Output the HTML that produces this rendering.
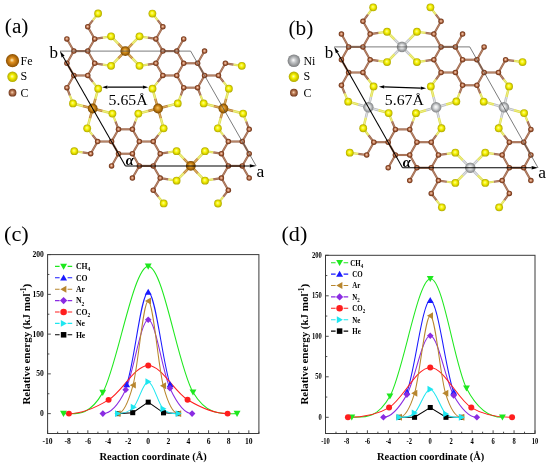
<!DOCTYPE html><html><head><meta charset="utf-8"><style>html,body{margin:0;padding:0;background:#fff;}svg{display:block}</style></head><body><svg width="550" height="466" viewBox="0 0 550 466">
<defs>
<radialGradient id="gFe" cx="0.5" cy="0.5" r="0.5" fx="0.45" fy="0.42"><stop offset="0" stop-color="#f5c060"/><stop offset="0.45" stop-color="#d08a18"/><stop offset="1" stop-color="#7a4600"/></radialGradient>
<radialGradient id="gNi" cx="0.5" cy="0.5" r="0.5" fx="0.47" fy="0.45"><stop offset="0" stop-color="#ffffff"/><stop offset="0.4" stop-color="#d8dadc"/><stop offset="0.75" stop-color="#a0a2a4"/><stop offset="0.92" stop-color="#8c8e90"/><stop offset="1" stop-color="#a4a6a8"/></radialGradient>
<radialGradient id="gS" cx="0.5" cy="0.5" r="0.5" fx="0.45" fy="0.42"><stop offset="0" stop-color="#ffff90"/><stop offset="0.5" stop-color="#f4f000"/><stop offset="1" stop-color="#b0a800"/></radialGradient>
<radialGradient id="gC" cx="0.5" cy="0.5" r="0.5" fx="0.48" fy="0.45"><stop offset="0" stop-color="#fad8bc"/><stop offset="0.35" stop-color="#d09070"/><stop offset="0.7" stop-color="#8e4a28"/><stop offset="1" stop-color="#6a3014"/></radialGradient>
<radialGradient id="gFeL" cx="0.5" cy="0.5" r="0.5" fx="0.45" fy="0.45"><stop offset="0" stop-color="#fff0c0"/><stop offset="0.35" stop-color="#e09020"/><stop offset="1" stop-color="#8a4e00"/></radialGradient>
<radialGradient id="gNiL" cx="0.5" cy="0.5" r="0.5" fx="0.45" fy="0.45"><stop offset="0" stop-color="#ffffff"/><stop offset="0.35" stop-color="#c8cacc"/><stop offset="1" stop-color="#7c7e80"/></radialGradient>
<radialGradient id="gSL" cx="0.5" cy="0.5" r="0.5" fx="0.45" fy="0.45"><stop offset="0" stop-color="#ffffc0"/><stop offset="0.4" stop-color="#f4f000"/><stop offset="1" stop-color="#b0a800"/></radialGradient>
<radialGradient id="gCL" cx="0.5" cy="0.5" r="0.5" fx="0.45" fy="0.45"><stop offset="0" stop-color="#f8d8b8"/><stop offset="0.4" stop-color="#c0805a"/><stop offset="1" stop-color="#6e3418"/></radialGradient>
</defs>
<rect width="550" height="466" fill="#fff"/>
<g>
<line x1="176.75" y1="51.10" x2="183.70" y2="38.91" stroke="#9a6448" stroke-width="2.10"/>
<line x1="176.75" y1="51.10" x2="183.70" y2="63.29" stroke="#9a6448" stroke-width="2.10"/>
<line x1="176.75" y1="51.10" x2="162.85" y2="51.10" stroke="#9a6448" stroke-width="2.10"/>
<line x1="204.55" y1="51.10" x2="197.60" y2="63.29" stroke="#9a6448" stroke-width="2.10"/>
<line x1="183.70" y1="63.29" x2="197.60" y2="63.29" stroke="#9a6448" stroke-width="2.10"/>
<line x1="183.70" y1="63.29" x2="176.75" y2="75.48" stroke="#9a6448" stroke-width="2.10"/>
<line x1="197.60" y1="63.29" x2="204.55" y2="75.48" stroke="#9a6448" stroke-width="2.10"/>
<line x1="162.85" y1="51.10" x2="155.90" y2="38.91" stroke="#9a6448" stroke-width="2.10"/>
<line x1="162.85" y1="51.10" x2="155.90" y2="63.29" stroke="#9a6448" stroke-width="2.10"/>
<line x1="176.75" y1="75.48" x2="162.85" y2="75.48" stroke="#9a6448" stroke-width="2.10"/>
<line x1="176.75" y1="75.48" x2="183.70" y2="87.66" stroke="#9a6448" stroke-width="2.10"/>
<line x1="204.55" y1="75.48" x2="197.60" y2="87.66" stroke="#9a6448" stroke-width="2.10"/>
<line x1="204.55" y1="75.48" x2="218.45" y2="75.48" stroke="#9a6448" stroke-width="2.10"/>
<line x1="162.85" y1="26.72" x2="155.90" y2="38.91" stroke="#9a6448" stroke-width="2.10"/>
<line x1="155.90" y1="63.29" x2="162.85" y2="75.48" stroke="#9a6448" stroke-width="2.10"/>
<line x1="183.70" y1="87.66" x2="197.60" y2="87.66" stroke="#9a6448" stroke-width="2.10"/>
<line x1="218.45" y1="75.48" x2="225.40" y2="63.29" stroke="#9a6448" stroke-width="2.10"/>
<line x1="139.35" y1="165.90" x2="132.40" y2="178.09" stroke="#9a6448" stroke-width="2.10"/>
<line x1="139.35" y1="165.90" x2="132.40" y2="153.71" stroke="#9a6448" stroke-width="2.10"/>
<line x1="139.35" y1="165.90" x2="153.25" y2="165.90" stroke="#9a6448" stroke-width="2.10"/>
<line x1="111.55" y1="165.90" x2="118.50" y2="153.71" stroke="#9a6448" stroke-width="2.10"/>
<line x1="132.40" y1="153.71" x2="118.50" y2="153.71" stroke="#9a6448" stroke-width="2.10"/>
<line x1="132.40" y1="153.71" x2="139.35" y2="141.52" stroke="#9a6448" stroke-width="2.10"/>
<line x1="118.50" y1="153.71" x2="111.55" y2="141.52" stroke="#9a6448" stroke-width="2.10"/>
<line x1="153.25" y1="165.90" x2="160.20" y2="178.09" stroke="#9a6448" stroke-width="2.10"/>
<line x1="153.25" y1="165.90" x2="160.20" y2="153.71" stroke="#9a6448" stroke-width="2.10"/>
<line x1="139.35" y1="141.52" x2="153.25" y2="141.52" stroke="#9a6448" stroke-width="2.10"/>
<line x1="139.35" y1="141.52" x2="132.40" y2="129.34" stroke="#9a6448" stroke-width="2.10"/>
<line x1="111.55" y1="141.52" x2="118.50" y2="129.34" stroke="#9a6448" stroke-width="2.10"/>
<line x1="111.55" y1="141.52" x2="97.65" y2="141.52" stroke="#9a6448" stroke-width="2.10"/>
<line x1="153.25" y1="190.28" x2="160.20" y2="178.09" stroke="#9a6448" stroke-width="2.10"/>
<line x1="160.20" y1="153.71" x2="153.25" y2="141.52" stroke="#9a6448" stroke-width="2.10"/>
<line x1="132.40" y1="129.34" x2="118.50" y2="129.34" stroke="#9a6448" stroke-width="2.10"/>
<line x1="97.65" y1="141.52" x2="90.70" y2="153.71" stroke="#9a6448" stroke-width="2.10"/>
<line x1="73.85" y1="51.10" x2="66.90" y2="38.91" stroke="#9a6448" stroke-width="2.10"/>
<line x1="73.85" y1="51.10" x2="66.90" y2="63.29" stroke="#9a6448" stroke-width="2.10"/>
<line x1="73.85" y1="51.10" x2="87.75" y2="51.10" stroke="#9a6448" stroke-width="2.10"/>
<line x1="66.90" y1="63.29" x2="73.85" y2="75.48" stroke="#9a6448" stroke-width="2.10"/>
<line x1="87.75" y1="51.10" x2="94.70" y2="38.91" stroke="#9a6448" stroke-width="2.10"/>
<line x1="87.75" y1="51.10" x2="94.70" y2="63.29" stroke="#9a6448" stroke-width="2.10"/>
<line x1="73.85" y1="75.48" x2="87.75" y2="75.48" stroke="#9a6448" stroke-width="2.10"/>
<line x1="73.85" y1="75.48" x2="66.90" y2="87.66" stroke="#9a6448" stroke-width="2.10"/>
<line x1="87.75" y1="26.72" x2="94.70" y2="38.91" stroke="#9a6448" stroke-width="2.10"/>
<line x1="94.70" y1="63.29" x2="87.75" y2="75.48" stroke="#9a6448" stroke-width="2.10"/>
<line x1="242.25" y1="165.90" x2="249.20" y2="178.09" stroke="#9a6448" stroke-width="2.10"/>
<line x1="242.25" y1="165.90" x2="249.20" y2="153.71" stroke="#9a6448" stroke-width="2.10"/>
<line x1="242.25" y1="165.90" x2="228.35" y2="165.90" stroke="#9a6448" stroke-width="2.10"/>
<line x1="249.20" y1="153.71" x2="242.25" y2="141.52" stroke="#9a6448" stroke-width="2.10"/>
<line x1="228.35" y1="165.90" x2="221.40" y2="178.09" stroke="#9a6448" stroke-width="2.10"/>
<line x1="228.35" y1="165.90" x2="221.40" y2="153.71" stroke="#9a6448" stroke-width="2.10"/>
<line x1="242.25" y1="141.52" x2="228.35" y2="141.52" stroke="#9a6448" stroke-width="2.10"/>
<line x1="242.25" y1="141.52" x2="249.20" y2="129.34" stroke="#9a6448" stroke-width="2.10"/>
<line x1="228.35" y1="190.28" x2="221.40" y2="178.09" stroke="#9a6448" stroke-width="2.10"/>
<line x1="221.40" y1="153.71" x2="228.35" y2="141.52" stroke="#9a6448" stroke-width="2.10"/>
<line x1="162.85" y1="26.72" x2="157.62" y2="20.13" stroke="#9a6448" stroke-width="2.20"/>
<line x1="157.62" y1="20.13" x2="152.39" y2="13.53" stroke="#dcdc48" stroke-width="2.20"/>
<line x1="155.90" y1="38.91" x2="147.70" y2="37.63" stroke="#9a6448" stroke-width="2.20"/>
<line x1="147.70" y1="37.63" x2="139.50" y2="36.35" stroke="#dcdc48" stroke-width="2.20"/>
<line x1="125.30" y1="51.10" x2="132.40" y2="43.72" stroke="#b88030" stroke-width="2.50"/>
<line x1="132.40" y1="43.72" x2="139.50" y2="36.35" stroke="#dcdc48" stroke-width="2.50"/>
<line x1="155.90" y1="63.29" x2="147.70" y2="64.57" stroke="#9a6448" stroke-width="2.20"/>
<line x1="147.70" y1="64.57" x2="139.50" y2="65.85" stroke="#dcdc48" stroke-width="2.20"/>
<line x1="125.30" y1="51.10" x2="132.40" y2="58.48" stroke="#b88030" stroke-width="2.50"/>
<line x1="132.40" y1="58.48" x2="139.50" y2="65.85" stroke="#dcdc48" stroke-width="2.50"/>
<line x1="162.85" y1="75.48" x2="157.67" y2="82.08" stroke="#9a6448" stroke-width="2.20"/>
<line x1="157.67" y1="82.08" x2="152.50" y2="88.68" stroke="#dcdc48" stroke-width="2.20"/>
<line x1="158.05" y1="108.50" x2="155.27" y2="98.59" stroke="#b88030" stroke-width="2.50"/>
<line x1="155.27" y1="98.59" x2="152.50" y2="88.68" stroke="#dcdc48" stroke-width="2.50"/>
<line x1="183.70" y1="87.66" x2="180.73" y2="95.53" stroke="#9a6448" stroke-width="2.20"/>
<line x1="180.73" y1="95.53" x2="177.76" y2="103.39" stroke="#dcdc48" stroke-width="2.20"/>
<line x1="158.05" y1="108.50" x2="167.90" y2="105.95" stroke="#b88030" stroke-width="2.50"/>
<line x1="167.90" y1="105.95" x2="177.76" y2="103.39" stroke="#dcdc48" stroke-width="2.50"/>
<line x1="197.60" y1="87.66" x2="200.64" y2="95.55" stroke="#9a6448" stroke-width="2.20"/>
<line x1="200.64" y1="95.55" x2="203.68" y2="103.43" stroke="#dcdc48" stroke-width="2.20"/>
<line x1="223.40" y1="108.50" x2="213.54" y2="105.96" stroke="#b88030" stroke-width="2.50"/>
<line x1="213.54" y1="105.96" x2="203.68" y2="103.43" stroke="#dcdc48" stroke-width="2.50"/>
<line x1="218.45" y1="75.48" x2="223.68" y2="82.07" stroke="#9a6448" stroke-width="2.20"/>
<line x1="223.68" y1="82.07" x2="228.91" y2="88.67" stroke="#dcdc48" stroke-width="2.20"/>
<line x1="223.40" y1="108.50" x2="226.16" y2="98.59" stroke="#b88030" stroke-width="2.50"/>
<line x1="226.16" y1="98.59" x2="228.91" y2="88.67" stroke="#dcdc48" stroke-width="2.50"/>
<line x1="225.40" y1="63.29" x2="233.60" y2="64.57" stroke="#9a6448" stroke-width="2.20"/>
<line x1="233.60" y1="64.57" x2="241.80" y2="65.85" stroke="#dcdc48" stroke-width="2.20"/>
<line x1="153.25" y1="190.28" x2="158.48" y2="196.87" stroke="#9a6448" stroke-width="2.20"/>
<line x1="158.48" y1="196.87" x2="163.71" y2="203.47" stroke="#dcdc48" stroke-width="2.20"/>
<line x1="160.20" y1="178.09" x2="168.40" y2="179.37" stroke="#9a6448" stroke-width="2.20"/>
<line x1="168.40" y1="179.37" x2="176.60" y2="180.65" stroke="#dcdc48" stroke-width="2.20"/>
<line x1="190.80" y1="165.90" x2="183.70" y2="173.28" stroke="#b88030" stroke-width="2.50"/>
<line x1="183.70" y1="173.28" x2="176.60" y2="180.65" stroke="#dcdc48" stroke-width="2.50"/>
<line x1="160.20" y1="153.71" x2="168.40" y2="152.43" stroke="#9a6448" stroke-width="2.20"/>
<line x1="168.40" y1="152.43" x2="176.60" y2="151.15" stroke="#dcdc48" stroke-width="2.20"/>
<line x1="190.80" y1="165.90" x2="183.70" y2="158.52" stroke="#b88030" stroke-width="2.50"/>
<line x1="183.70" y1="158.52" x2="176.60" y2="151.15" stroke="#dcdc48" stroke-width="2.50"/>
<line x1="153.25" y1="141.52" x2="158.43" y2="134.92" stroke="#9a6448" stroke-width="2.20"/>
<line x1="158.43" y1="134.92" x2="163.60" y2="128.32" stroke="#dcdc48" stroke-width="2.20"/>
<line x1="158.05" y1="108.50" x2="160.83" y2="118.41" stroke="#b88030" stroke-width="2.50"/>
<line x1="160.83" y1="118.41" x2="163.60" y2="128.32" stroke="#dcdc48" stroke-width="2.50"/>
<line x1="132.40" y1="129.34" x2="135.37" y2="121.47" stroke="#9a6448" stroke-width="2.20"/>
<line x1="135.37" y1="121.47" x2="138.34" y2="113.61" stroke="#dcdc48" stroke-width="2.20"/>
<line x1="158.05" y1="108.50" x2="148.20" y2="111.05" stroke="#b88030" stroke-width="2.50"/>
<line x1="148.20" y1="111.05" x2="138.34" y2="113.61" stroke="#dcdc48" stroke-width="2.50"/>
<line x1="118.50" y1="129.34" x2="115.46" y2="121.45" stroke="#9a6448" stroke-width="2.20"/>
<line x1="115.46" y1="121.45" x2="112.42" y2="113.57" stroke="#dcdc48" stroke-width="2.20"/>
<line x1="92.70" y1="108.50" x2="102.56" y2="111.04" stroke="#b88030" stroke-width="2.50"/>
<line x1="102.56" y1="111.04" x2="112.42" y2="113.57" stroke="#dcdc48" stroke-width="2.50"/>
<line x1="97.65" y1="141.52" x2="92.42" y2="134.93" stroke="#9a6448" stroke-width="2.20"/>
<line x1="92.42" y1="134.93" x2="87.19" y2="128.33" stroke="#dcdc48" stroke-width="2.20"/>
<line x1="92.70" y1="108.50" x2="89.94" y2="118.41" stroke="#b88030" stroke-width="2.50"/>
<line x1="89.94" y1="118.41" x2="87.19" y2="128.33" stroke="#dcdc48" stroke-width="2.50"/>
<line x1="90.70" y1="153.71" x2="82.50" y2="152.43" stroke="#9a6448" stroke-width="2.20"/>
<line x1="82.50" y1="152.43" x2="74.30" y2="151.15" stroke="#dcdc48" stroke-width="2.20"/>
<line x1="87.75" y1="26.72" x2="92.93" y2="20.12" stroke="#9a6448" stroke-width="2.20"/>
<line x1="92.93" y1="20.12" x2="98.10" y2="13.52" stroke="#dcdc48" stroke-width="2.20"/>
<line x1="94.70" y1="38.91" x2="102.90" y2="37.63" stroke="#9a6448" stroke-width="2.20"/>
<line x1="102.90" y1="37.63" x2="111.10" y2="36.35" stroke="#dcdc48" stroke-width="2.20"/>
<line x1="125.30" y1="51.10" x2="118.20" y2="43.72" stroke="#b88030" stroke-width="2.50"/>
<line x1="118.20" y1="43.72" x2="111.10" y2="36.35" stroke="#dcdc48" stroke-width="2.50"/>
<line x1="94.70" y1="63.29" x2="102.90" y2="64.57" stroke="#9a6448" stroke-width="2.20"/>
<line x1="102.90" y1="64.57" x2="111.10" y2="65.85" stroke="#dcdc48" stroke-width="2.20"/>
<line x1="125.30" y1="51.10" x2="118.20" y2="58.48" stroke="#b88030" stroke-width="2.50"/>
<line x1="118.20" y1="58.48" x2="111.10" y2="65.85" stroke="#dcdc48" stroke-width="2.50"/>
<line x1="87.75" y1="75.48" x2="92.98" y2="82.07" stroke="#9a6448" stroke-width="2.20"/>
<line x1="92.98" y1="82.07" x2="98.21" y2="88.67" stroke="#dcdc48" stroke-width="2.20"/>
<line x1="92.70" y1="108.50" x2="95.46" y2="98.59" stroke="#b88030" stroke-width="2.50"/>
<line x1="95.46" y1="98.59" x2="98.21" y2="88.67" stroke="#dcdc48" stroke-width="2.50"/>
<line x1="66.90" y1="87.66" x2="69.94" y2="95.55" stroke="#9a6448" stroke-width="2.20"/>
<line x1="69.94" y1="95.55" x2="72.98" y2="103.43" stroke="#dcdc48" stroke-width="2.20"/>
<line x1="92.70" y1="108.50" x2="82.84" y2="105.96" stroke="#b88030" stroke-width="2.50"/>
<line x1="82.84" y1="105.96" x2="72.98" y2="103.43" stroke="#dcdc48" stroke-width="2.50"/>
<line x1="228.35" y1="190.28" x2="223.17" y2="196.88" stroke="#9a6448" stroke-width="2.20"/>
<line x1="223.17" y1="196.88" x2="218.00" y2="203.48" stroke="#dcdc48" stroke-width="2.20"/>
<line x1="221.40" y1="178.09" x2="213.20" y2="179.37" stroke="#9a6448" stroke-width="2.20"/>
<line x1="213.20" y1="179.37" x2="205.00" y2="180.65" stroke="#dcdc48" stroke-width="2.20"/>
<line x1="190.80" y1="165.90" x2="197.90" y2="173.28" stroke="#b88030" stroke-width="2.50"/>
<line x1="197.90" y1="173.28" x2="205.00" y2="180.65" stroke="#dcdc48" stroke-width="2.50"/>
<line x1="221.40" y1="153.71" x2="213.20" y2="152.43" stroke="#9a6448" stroke-width="2.20"/>
<line x1="213.20" y1="152.43" x2="205.00" y2="151.15" stroke="#dcdc48" stroke-width="2.20"/>
<line x1="190.80" y1="165.90" x2="197.90" y2="158.52" stroke="#b88030" stroke-width="2.50"/>
<line x1="197.90" y1="158.52" x2="205.00" y2="151.15" stroke="#dcdc48" stroke-width="2.50"/>
<line x1="228.35" y1="141.52" x2="223.12" y2="134.93" stroke="#9a6448" stroke-width="2.20"/>
<line x1="223.12" y1="134.93" x2="217.89" y2="128.33" stroke="#dcdc48" stroke-width="2.20"/>
<line x1="223.40" y1="108.50" x2="220.64" y2="118.41" stroke="#b88030" stroke-width="2.50"/>
<line x1="220.64" y1="118.41" x2="217.89" y2="128.33" stroke="#dcdc48" stroke-width="2.50"/>
<line x1="249.20" y1="129.34" x2="246.16" y2="121.45" stroke="#9a6448" stroke-width="2.20"/>
<line x1="246.16" y1="121.45" x2="243.12" y2="113.57" stroke="#dcdc48" stroke-width="2.20"/>
<line x1="223.40" y1="108.50" x2="233.26" y2="111.04" stroke="#b88030" stroke-width="2.50"/>
<line x1="233.26" y1="111.04" x2="243.12" y2="113.57" stroke="#dcdc48" stroke-width="2.50"/>
</g>
<g>
<line x1="176.75" y1="51.10" x2="183.70" y2="38.91" stroke="#b8866a" stroke-width="0.95"/>
<line x1="176.75" y1="51.10" x2="183.70" y2="63.29" stroke="#b8866a" stroke-width="0.95"/>
<line x1="176.75" y1="51.10" x2="162.85" y2="51.10" stroke="#b8866a" stroke-width="0.95"/>
<line x1="204.55" y1="51.10" x2="197.60" y2="63.29" stroke="#b8866a" stroke-width="0.95"/>
<line x1="183.70" y1="63.29" x2="197.60" y2="63.29" stroke="#b8866a" stroke-width="0.95"/>
<line x1="183.70" y1="63.29" x2="176.75" y2="75.48" stroke="#b8866a" stroke-width="0.95"/>
<line x1="197.60" y1="63.29" x2="204.55" y2="75.48" stroke="#b8866a" stroke-width="0.95"/>
<line x1="162.85" y1="51.10" x2="155.90" y2="38.91" stroke="#b8866a" stroke-width="0.95"/>
<line x1="162.85" y1="51.10" x2="155.90" y2="63.29" stroke="#b8866a" stroke-width="0.95"/>
<line x1="176.75" y1="75.48" x2="162.85" y2="75.48" stroke="#b8866a" stroke-width="0.95"/>
<line x1="176.75" y1="75.48" x2="183.70" y2="87.66" stroke="#b8866a" stroke-width="0.95"/>
<line x1="204.55" y1="75.48" x2="197.60" y2="87.66" stroke="#b8866a" stroke-width="0.95"/>
<line x1="204.55" y1="75.48" x2="218.45" y2="75.48" stroke="#b8866a" stroke-width="0.95"/>
<line x1="162.85" y1="26.72" x2="155.90" y2="38.91" stroke="#b8866a" stroke-width="0.95"/>
<line x1="155.90" y1="63.29" x2="162.85" y2="75.48" stroke="#b8866a" stroke-width="0.95"/>
<line x1="183.70" y1="87.66" x2="197.60" y2="87.66" stroke="#b8866a" stroke-width="0.95"/>
<line x1="218.45" y1="75.48" x2="225.40" y2="63.29" stroke="#b8866a" stroke-width="0.95"/>
<line x1="139.35" y1="165.90" x2="132.40" y2="178.09" stroke="#b8866a" stroke-width="0.95"/>
<line x1="139.35" y1="165.90" x2="132.40" y2="153.71" stroke="#b8866a" stroke-width="0.95"/>
<line x1="139.35" y1="165.90" x2="153.25" y2="165.90" stroke="#b8866a" stroke-width="0.95"/>
<line x1="111.55" y1="165.90" x2="118.50" y2="153.71" stroke="#b8866a" stroke-width="0.95"/>
<line x1="132.40" y1="153.71" x2="118.50" y2="153.71" stroke="#b8866a" stroke-width="0.95"/>
<line x1="132.40" y1="153.71" x2="139.35" y2="141.52" stroke="#b8866a" stroke-width="0.95"/>
<line x1="118.50" y1="153.71" x2="111.55" y2="141.52" stroke="#b8866a" stroke-width="0.95"/>
<line x1="153.25" y1="165.90" x2="160.20" y2="178.09" stroke="#b8866a" stroke-width="0.95"/>
<line x1="153.25" y1="165.90" x2="160.20" y2="153.71" stroke="#b8866a" stroke-width="0.95"/>
<line x1="139.35" y1="141.52" x2="153.25" y2="141.52" stroke="#b8866a" stroke-width="0.95"/>
<line x1="139.35" y1="141.52" x2="132.40" y2="129.34" stroke="#b8866a" stroke-width="0.95"/>
<line x1="111.55" y1="141.52" x2="118.50" y2="129.34" stroke="#b8866a" stroke-width="0.95"/>
<line x1="111.55" y1="141.52" x2="97.65" y2="141.52" stroke="#b8866a" stroke-width="0.95"/>
<line x1="153.25" y1="190.28" x2="160.20" y2="178.09" stroke="#b8866a" stroke-width="0.95"/>
<line x1="160.20" y1="153.71" x2="153.25" y2="141.52" stroke="#b8866a" stroke-width="0.95"/>
<line x1="132.40" y1="129.34" x2="118.50" y2="129.34" stroke="#b8866a" stroke-width="0.95"/>
<line x1="97.65" y1="141.52" x2="90.70" y2="153.71" stroke="#b8866a" stroke-width="0.95"/>
<line x1="73.85" y1="51.10" x2="66.90" y2="38.91" stroke="#b8866a" stroke-width="0.95"/>
<line x1="73.85" y1="51.10" x2="66.90" y2="63.29" stroke="#b8866a" stroke-width="0.95"/>
<line x1="73.85" y1="51.10" x2="87.75" y2="51.10" stroke="#b8866a" stroke-width="0.95"/>
<line x1="66.90" y1="63.29" x2="73.85" y2="75.48" stroke="#b8866a" stroke-width="0.95"/>
<line x1="87.75" y1="51.10" x2="94.70" y2="38.91" stroke="#b8866a" stroke-width="0.95"/>
<line x1="87.75" y1="51.10" x2="94.70" y2="63.29" stroke="#b8866a" stroke-width="0.95"/>
<line x1="73.85" y1="75.48" x2="87.75" y2="75.48" stroke="#b8866a" stroke-width="0.95"/>
<line x1="73.85" y1="75.48" x2="66.90" y2="87.66" stroke="#b8866a" stroke-width="0.95"/>
<line x1="87.75" y1="26.72" x2="94.70" y2="38.91" stroke="#b8866a" stroke-width="0.95"/>
<line x1="94.70" y1="63.29" x2="87.75" y2="75.48" stroke="#b8866a" stroke-width="0.95"/>
<line x1="242.25" y1="165.90" x2="249.20" y2="178.09" stroke="#b8866a" stroke-width="0.95"/>
<line x1="242.25" y1="165.90" x2="249.20" y2="153.71" stroke="#b8866a" stroke-width="0.95"/>
<line x1="242.25" y1="165.90" x2="228.35" y2="165.90" stroke="#b8866a" stroke-width="0.95"/>
<line x1="249.20" y1="153.71" x2="242.25" y2="141.52" stroke="#b8866a" stroke-width="0.95"/>
<line x1="228.35" y1="165.90" x2="221.40" y2="178.09" stroke="#b8866a" stroke-width="0.95"/>
<line x1="228.35" y1="165.90" x2="221.40" y2="153.71" stroke="#b8866a" stroke-width="0.95"/>
<line x1="242.25" y1="141.52" x2="228.35" y2="141.52" stroke="#b8866a" stroke-width="0.95"/>
<line x1="242.25" y1="141.52" x2="249.20" y2="129.34" stroke="#b8866a" stroke-width="0.95"/>
<line x1="228.35" y1="190.28" x2="221.40" y2="178.09" stroke="#b8866a" stroke-width="0.95"/>
<line x1="221.40" y1="153.71" x2="228.35" y2="141.52" stroke="#b8866a" stroke-width="0.95"/>
<line x1="162.85" y1="26.72" x2="157.62" y2="20.13" stroke="#b8866a" stroke-width="0.99"/>
<line x1="157.62" y1="20.13" x2="152.39" y2="13.53" stroke="#eeee88" stroke-width="0.99"/>
<line x1="155.90" y1="38.91" x2="147.70" y2="37.63" stroke="#b8866a" stroke-width="0.99"/>
<line x1="147.70" y1="37.63" x2="139.50" y2="36.35" stroke="#eeee88" stroke-width="0.99"/>
<line x1="125.30" y1="51.10" x2="132.40" y2="43.72" stroke="#dcac60" stroke-width="1.12"/>
<line x1="132.40" y1="43.72" x2="139.50" y2="36.35" stroke="#eeee88" stroke-width="1.12"/>
<line x1="155.90" y1="63.29" x2="147.70" y2="64.57" stroke="#b8866a" stroke-width="0.99"/>
<line x1="147.70" y1="64.57" x2="139.50" y2="65.85" stroke="#eeee88" stroke-width="0.99"/>
<line x1="125.30" y1="51.10" x2="132.40" y2="58.48" stroke="#dcac60" stroke-width="1.12"/>
<line x1="132.40" y1="58.48" x2="139.50" y2="65.85" stroke="#eeee88" stroke-width="1.12"/>
<line x1="162.85" y1="75.48" x2="157.67" y2="82.08" stroke="#b8866a" stroke-width="0.99"/>
<line x1="157.67" y1="82.08" x2="152.50" y2="88.68" stroke="#eeee88" stroke-width="0.99"/>
<line x1="158.05" y1="108.50" x2="155.27" y2="98.59" stroke="#dcac60" stroke-width="1.12"/>
<line x1="155.27" y1="98.59" x2="152.50" y2="88.68" stroke="#eeee88" stroke-width="1.12"/>
<line x1="183.70" y1="87.66" x2="180.73" y2="95.53" stroke="#b8866a" stroke-width="0.99"/>
<line x1="180.73" y1="95.53" x2="177.76" y2="103.39" stroke="#eeee88" stroke-width="0.99"/>
<line x1="158.05" y1="108.50" x2="167.90" y2="105.95" stroke="#dcac60" stroke-width="1.12"/>
<line x1="167.90" y1="105.95" x2="177.76" y2="103.39" stroke="#eeee88" stroke-width="1.12"/>
<line x1="197.60" y1="87.66" x2="200.64" y2="95.55" stroke="#b8866a" stroke-width="0.99"/>
<line x1="200.64" y1="95.55" x2="203.68" y2="103.43" stroke="#eeee88" stroke-width="0.99"/>
<line x1="223.40" y1="108.50" x2="213.54" y2="105.96" stroke="#dcac60" stroke-width="1.12"/>
<line x1="213.54" y1="105.96" x2="203.68" y2="103.43" stroke="#eeee88" stroke-width="1.12"/>
<line x1="218.45" y1="75.48" x2="223.68" y2="82.07" stroke="#b8866a" stroke-width="0.99"/>
<line x1="223.68" y1="82.07" x2="228.91" y2="88.67" stroke="#eeee88" stroke-width="0.99"/>
<line x1="223.40" y1="108.50" x2="226.16" y2="98.59" stroke="#dcac60" stroke-width="1.12"/>
<line x1="226.16" y1="98.59" x2="228.91" y2="88.67" stroke="#eeee88" stroke-width="1.12"/>
<line x1="225.40" y1="63.29" x2="233.60" y2="64.57" stroke="#b8866a" stroke-width="0.99"/>
<line x1="233.60" y1="64.57" x2="241.80" y2="65.85" stroke="#eeee88" stroke-width="0.99"/>
<line x1="153.25" y1="190.28" x2="158.48" y2="196.87" stroke="#b8866a" stroke-width="0.99"/>
<line x1="158.48" y1="196.87" x2="163.71" y2="203.47" stroke="#eeee88" stroke-width="0.99"/>
<line x1="160.20" y1="178.09" x2="168.40" y2="179.37" stroke="#b8866a" stroke-width="0.99"/>
<line x1="168.40" y1="179.37" x2="176.60" y2="180.65" stroke="#eeee88" stroke-width="0.99"/>
<line x1="190.80" y1="165.90" x2="183.70" y2="173.28" stroke="#dcac60" stroke-width="1.12"/>
<line x1="183.70" y1="173.28" x2="176.60" y2="180.65" stroke="#eeee88" stroke-width="1.12"/>
<line x1="160.20" y1="153.71" x2="168.40" y2="152.43" stroke="#b8866a" stroke-width="0.99"/>
<line x1="168.40" y1="152.43" x2="176.60" y2="151.15" stroke="#eeee88" stroke-width="0.99"/>
<line x1="190.80" y1="165.90" x2="183.70" y2="158.52" stroke="#dcac60" stroke-width="1.12"/>
<line x1="183.70" y1="158.52" x2="176.60" y2="151.15" stroke="#eeee88" stroke-width="1.12"/>
<line x1="153.25" y1="141.52" x2="158.43" y2="134.92" stroke="#b8866a" stroke-width="0.99"/>
<line x1="158.43" y1="134.92" x2="163.60" y2="128.32" stroke="#eeee88" stroke-width="0.99"/>
<line x1="158.05" y1="108.50" x2="160.83" y2="118.41" stroke="#dcac60" stroke-width="1.12"/>
<line x1="160.83" y1="118.41" x2="163.60" y2="128.32" stroke="#eeee88" stroke-width="1.12"/>
<line x1="132.40" y1="129.34" x2="135.37" y2="121.47" stroke="#b8866a" stroke-width="0.99"/>
<line x1="135.37" y1="121.47" x2="138.34" y2="113.61" stroke="#eeee88" stroke-width="0.99"/>
<line x1="158.05" y1="108.50" x2="148.20" y2="111.05" stroke="#dcac60" stroke-width="1.12"/>
<line x1="148.20" y1="111.05" x2="138.34" y2="113.61" stroke="#eeee88" stroke-width="1.12"/>
<line x1="118.50" y1="129.34" x2="115.46" y2="121.45" stroke="#b8866a" stroke-width="0.99"/>
<line x1="115.46" y1="121.45" x2="112.42" y2="113.57" stroke="#eeee88" stroke-width="0.99"/>
<line x1="92.70" y1="108.50" x2="102.56" y2="111.04" stroke="#dcac60" stroke-width="1.12"/>
<line x1="102.56" y1="111.04" x2="112.42" y2="113.57" stroke="#eeee88" stroke-width="1.12"/>
<line x1="97.65" y1="141.52" x2="92.42" y2="134.93" stroke="#b8866a" stroke-width="0.99"/>
<line x1="92.42" y1="134.93" x2="87.19" y2="128.33" stroke="#eeee88" stroke-width="0.99"/>
<line x1="92.70" y1="108.50" x2="89.94" y2="118.41" stroke="#dcac60" stroke-width="1.12"/>
<line x1="89.94" y1="118.41" x2="87.19" y2="128.33" stroke="#eeee88" stroke-width="1.12"/>
<line x1="90.70" y1="153.71" x2="82.50" y2="152.43" stroke="#b8866a" stroke-width="0.99"/>
<line x1="82.50" y1="152.43" x2="74.30" y2="151.15" stroke="#eeee88" stroke-width="0.99"/>
<line x1="87.75" y1="26.72" x2="92.93" y2="20.12" stroke="#b8866a" stroke-width="0.99"/>
<line x1="92.93" y1="20.12" x2="98.10" y2="13.52" stroke="#eeee88" stroke-width="0.99"/>
<line x1="94.70" y1="38.91" x2="102.90" y2="37.63" stroke="#b8866a" stroke-width="0.99"/>
<line x1="102.90" y1="37.63" x2="111.10" y2="36.35" stroke="#eeee88" stroke-width="0.99"/>
<line x1="125.30" y1="51.10" x2="118.20" y2="43.72" stroke="#dcac60" stroke-width="1.12"/>
<line x1="118.20" y1="43.72" x2="111.10" y2="36.35" stroke="#eeee88" stroke-width="1.12"/>
<line x1="94.70" y1="63.29" x2="102.90" y2="64.57" stroke="#b8866a" stroke-width="0.99"/>
<line x1="102.90" y1="64.57" x2="111.10" y2="65.85" stroke="#eeee88" stroke-width="0.99"/>
<line x1="125.30" y1="51.10" x2="118.20" y2="58.48" stroke="#dcac60" stroke-width="1.12"/>
<line x1="118.20" y1="58.48" x2="111.10" y2="65.85" stroke="#eeee88" stroke-width="1.12"/>
<line x1="87.75" y1="75.48" x2="92.98" y2="82.07" stroke="#b8866a" stroke-width="0.99"/>
<line x1="92.98" y1="82.07" x2="98.21" y2="88.67" stroke="#eeee88" stroke-width="0.99"/>
<line x1="92.70" y1="108.50" x2="95.46" y2="98.59" stroke="#dcac60" stroke-width="1.12"/>
<line x1="95.46" y1="98.59" x2="98.21" y2="88.67" stroke="#eeee88" stroke-width="1.12"/>
<line x1="66.90" y1="87.66" x2="69.94" y2="95.55" stroke="#b8866a" stroke-width="0.99"/>
<line x1="69.94" y1="95.55" x2="72.98" y2="103.43" stroke="#eeee88" stroke-width="0.99"/>
<line x1="92.70" y1="108.50" x2="82.84" y2="105.96" stroke="#dcac60" stroke-width="1.12"/>
<line x1="82.84" y1="105.96" x2="72.98" y2="103.43" stroke="#eeee88" stroke-width="1.12"/>
<line x1="228.35" y1="190.28" x2="223.17" y2="196.88" stroke="#b8866a" stroke-width="0.99"/>
<line x1="223.17" y1="196.88" x2="218.00" y2="203.48" stroke="#eeee88" stroke-width="0.99"/>
<line x1="221.40" y1="178.09" x2="213.20" y2="179.37" stroke="#b8866a" stroke-width="0.99"/>
<line x1="213.20" y1="179.37" x2="205.00" y2="180.65" stroke="#eeee88" stroke-width="0.99"/>
<line x1="190.80" y1="165.90" x2="197.90" y2="173.28" stroke="#dcac60" stroke-width="1.12"/>
<line x1="197.90" y1="173.28" x2="205.00" y2="180.65" stroke="#eeee88" stroke-width="1.12"/>
<line x1="221.40" y1="153.71" x2="213.20" y2="152.43" stroke="#b8866a" stroke-width="0.99"/>
<line x1="213.20" y1="152.43" x2="205.00" y2="151.15" stroke="#eeee88" stroke-width="0.99"/>
<line x1="190.80" y1="165.90" x2="197.90" y2="158.52" stroke="#dcac60" stroke-width="1.12"/>
<line x1="197.90" y1="158.52" x2="205.00" y2="151.15" stroke="#eeee88" stroke-width="1.12"/>
<line x1="228.35" y1="141.52" x2="223.12" y2="134.93" stroke="#b8866a" stroke-width="0.99"/>
<line x1="223.12" y1="134.93" x2="217.89" y2="128.33" stroke="#eeee88" stroke-width="0.99"/>
<line x1="223.40" y1="108.50" x2="220.64" y2="118.41" stroke="#dcac60" stroke-width="1.12"/>
<line x1="220.64" y1="118.41" x2="217.89" y2="128.33" stroke="#eeee88" stroke-width="1.12"/>
<line x1="249.20" y1="129.34" x2="246.16" y2="121.45" stroke="#b8866a" stroke-width="0.99"/>
<line x1="246.16" y1="121.45" x2="243.12" y2="113.57" stroke="#eeee88" stroke-width="0.99"/>
<line x1="223.40" y1="108.50" x2="233.26" y2="111.04" stroke="#dcac60" stroke-width="1.12"/>
<line x1="233.26" y1="111.04" x2="243.12" y2="113.57" stroke="#eeee88" stroke-width="1.12"/>
</g>
<circle cx="152.39" cy="13.53" r="3.9" fill="url(#gS)"/>
<circle cx="139.50" cy="36.35" r="3.9" fill="url(#gS)"/>
<circle cx="139.50" cy="65.85" r="3.9" fill="url(#gS)"/>
<circle cx="152.50" cy="88.68" r="3.9" fill="url(#gS)"/>
<circle cx="177.76" cy="103.39" r="3.9" fill="url(#gS)"/>
<circle cx="203.68" cy="103.43" r="3.9" fill="url(#gS)"/>
<circle cx="228.91" cy="88.67" r="3.9" fill="url(#gS)"/>
<circle cx="241.80" cy="65.85" r="3.9" fill="url(#gS)"/>
<circle cx="163.71" cy="203.47" r="3.9" fill="url(#gS)"/>
<circle cx="176.60" cy="180.65" r="3.9" fill="url(#gS)"/>
<circle cx="176.60" cy="151.15" r="3.9" fill="url(#gS)"/>
<circle cx="163.60" cy="128.32" r="3.9" fill="url(#gS)"/>
<circle cx="138.34" cy="113.61" r="3.9" fill="url(#gS)"/>
<circle cx="112.42" cy="113.57" r="3.9" fill="url(#gS)"/>
<circle cx="87.19" cy="128.33" r="3.9" fill="url(#gS)"/>
<circle cx="74.30" cy="151.15" r="3.9" fill="url(#gS)"/>
<circle cx="98.10" cy="13.52" r="3.9" fill="url(#gS)"/>
<circle cx="111.10" cy="36.35" r="3.9" fill="url(#gS)"/>
<circle cx="111.10" cy="65.85" r="3.9" fill="url(#gS)"/>
<circle cx="98.21" cy="88.67" r="3.9" fill="url(#gS)"/>
<circle cx="72.98" cy="103.43" r="3.9" fill="url(#gS)"/>
<circle cx="218.00" cy="203.48" r="3.9" fill="url(#gS)"/>
<circle cx="205.00" cy="180.65" r="3.9" fill="url(#gS)"/>
<circle cx="205.00" cy="151.15" r="3.9" fill="url(#gS)"/>
<circle cx="217.89" cy="128.33" r="3.9" fill="url(#gS)"/>
<circle cx="243.12" cy="113.57" r="3.9" fill="url(#gS)"/>
<circle cx="190.80" cy="165.90" r="4.9" fill="url(#gFe)"/>
<circle cx="92.70" cy="108.50" r="4.9" fill="url(#gFe)"/>
<circle cx="158.05" cy="108.50" r="4.9" fill="url(#gFe)"/>
<circle cx="223.40" cy="108.50" r="4.9" fill="url(#gFe)"/>
<circle cx="125.30" cy="51.10" r="4.9" fill="url(#gFe)"/>
<circle cx="176.75" cy="51.10" r="2.75" fill="url(#gC)"/>
<circle cx="204.55" cy="51.10" r="2.75" fill="url(#gC)"/>
<circle cx="183.70" cy="38.91" r="2.75" fill="url(#gC)"/>
<circle cx="183.70" cy="63.29" r="2.75" fill="url(#gC)"/>
<circle cx="197.60" cy="63.29" r="2.75" fill="url(#gC)"/>
<circle cx="162.85" cy="51.10" r="2.75" fill="url(#gC)"/>
<circle cx="176.75" cy="75.48" r="2.75" fill="url(#gC)"/>
<circle cx="204.55" cy="75.48" r="2.75" fill="url(#gC)"/>
<circle cx="162.85" cy="26.72" r="2.75" fill="url(#gC)"/>
<circle cx="155.90" cy="38.91" r="2.75" fill="url(#gC)"/>
<circle cx="155.90" cy="63.29" r="2.75" fill="url(#gC)"/>
<circle cx="162.85" cy="75.48" r="2.75" fill="url(#gC)"/>
<circle cx="183.70" cy="87.66" r="2.75" fill="url(#gC)"/>
<circle cx="197.60" cy="87.66" r="2.75" fill="url(#gC)"/>
<circle cx="218.45" cy="75.48" r="2.75" fill="url(#gC)"/>
<circle cx="225.40" cy="63.29" r="2.75" fill="url(#gC)"/>
<circle cx="139.35" cy="165.90" r="2.75" fill="url(#gC)"/>
<circle cx="111.55" cy="165.90" r="2.75" fill="url(#gC)"/>
<circle cx="132.40" cy="178.09" r="2.75" fill="url(#gC)"/>
<circle cx="132.40" cy="153.71" r="2.75" fill="url(#gC)"/>
<circle cx="118.50" cy="153.71" r="2.75" fill="url(#gC)"/>
<circle cx="153.25" cy="165.90" r="2.75" fill="url(#gC)"/>
<circle cx="139.35" cy="141.52" r="2.75" fill="url(#gC)"/>
<circle cx="111.55" cy="141.52" r="2.75" fill="url(#gC)"/>
<circle cx="153.25" cy="190.28" r="2.75" fill="url(#gC)"/>
<circle cx="160.20" cy="178.09" r="2.75" fill="url(#gC)"/>
<circle cx="160.20" cy="153.71" r="2.75" fill="url(#gC)"/>
<circle cx="153.25" cy="141.52" r="2.75" fill="url(#gC)"/>
<circle cx="132.40" cy="129.34" r="2.75" fill="url(#gC)"/>
<circle cx="118.50" cy="129.34" r="2.75" fill="url(#gC)"/>
<circle cx="97.65" cy="141.52" r="2.75" fill="url(#gC)"/>
<circle cx="90.70" cy="153.71" r="2.75" fill="url(#gC)"/>
<circle cx="73.85" cy="51.10" r="2.75" fill="url(#gC)"/>
<circle cx="66.90" cy="38.91" r="2.75" fill="url(#gC)"/>
<circle cx="66.90" cy="63.29" r="2.75" fill="url(#gC)"/>
<circle cx="87.75" cy="51.10" r="2.75" fill="url(#gC)"/>
<circle cx="73.85" cy="75.48" r="2.75" fill="url(#gC)"/>
<circle cx="87.75" cy="26.72" r="2.75" fill="url(#gC)"/>
<circle cx="94.70" cy="38.91" r="2.75" fill="url(#gC)"/>
<circle cx="94.70" cy="63.29" r="2.75" fill="url(#gC)"/>
<circle cx="87.75" cy="75.48" r="2.75" fill="url(#gC)"/>
<circle cx="66.90" cy="87.66" r="2.75" fill="url(#gC)"/>
<circle cx="242.25" cy="165.90" r="2.75" fill="url(#gC)"/>
<circle cx="249.20" cy="178.09" r="2.75" fill="url(#gC)"/>
<circle cx="249.20" cy="153.71" r="2.75" fill="url(#gC)"/>
<circle cx="228.35" cy="165.90" r="2.75" fill="url(#gC)"/>
<circle cx="242.25" cy="141.52" r="2.75" fill="url(#gC)"/>
<circle cx="228.35" cy="190.28" r="2.75" fill="url(#gC)"/>
<circle cx="221.40" cy="178.09" r="2.75" fill="url(#gC)"/>
<circle cx="221.40" cy="153.71" r="2.75" fill="url(#gC)"/>
<circle cx="228.35" cy="141.52" r="2.75" fill="url(#gC)"/>
<circle cx="249.20" cy="129.34" r="2.75" fill="url(#gC)"/>
<path d="M59.95 51.10L190.65 51.10L256.15 165.90" fill="none" stroke="#505050" stroke-width="0.75"/>
<line x1="125.45" y1="165.90" x2="249.75" y2="165.90" stroke="#000" stroke-width="1.05"/>
<path d="M256.15 165.90L249.75 167.60L249.75 164.20Z" fill="#000"/>
<line x1="125.45" y1="165.90" x2="63.12" y2="56.66" stroke="#000" stroke-width="1.05"/>
<path d="M59.95 51.10L64.60 55.82L61.65 57.50Z" fill="#000"/>
<line x1="107.40" y1="87.20" x2="142.90" y2="87.20" stroke="#000" stroke-width="1.2"/>
<path d="M102.10 87.20L107.40 88.80L107.40 85.60Z" fill="#000"/>
<path d="M148.20 87.20L142.90 88.80L142.90 85.60Z" fill="#000"/>
<text transform="translate(108.60,104.60) scale(1.04,1.0)" font-family="'Liberation Serif','Times New Roman',serif" font-size="15.2" text-anchor="start" font-weight="normal" font-style="normal" >5.65Å</text>
<text transform="translate(4.80,32.50) scale(1.04,1.0)" font-family="'Liberation Serif','Times New Roman',serif" font-size="20.5" text-anchor="start" font-weight="normal" font-style="normal" >(a)</text>
<circle cx="12.50" cy="60.7" r="6.6" fill="url(#gFeL)"/>
<circle cx="12.50" cy="76.8" r="5.2" fill="url(#gSL)"/>
<circle cx="12.50" cy="92.7" r="3.9" fill="url(#gCL)"/>
<text x="20.60" y="64.60" font-family="'Liberation Serif','Times New Roman',serif" font-size="12" text-anchor="start" font-weight="normal" font-style="normal" >Fe</text>
<text x="20.60" y="80.20" font-family="'Liberation Serif','Times New Roman',serif" font-size="12" text-anchor="start" font-weight="normal" font-style="normal" >S</text>
<text x="20.60" y="96.60" font-family="'Liberation Serif','Times New Roman',serif" font-size="12" text-anchor="start" font-weight="normal" font-style="normal" >C</text>
<text x="256.45" y="176.50" font-family="'Liberation Serif','Times New Roman',serif" font-size="17.5" text-anchor="start" font-weight="normal" font-style="normal" >a</text>
<text x="49.40" y="58.30" font-family="'Liberation Serif','Times New Roman',serif" font-size="17" text-anchor="start" font-weight="normal" font-style="normal" >b</text>
<text x="125.65" y="165.30" font-family="'Liberation Serif','Times New Roman',serif" font-size="14.5" text-anchor="start" font-weight="bold" font-style="italic" >α</text>
<g>
<line x1="455.40" y1="46.90" x2="462.57" y2="34.10" stroke="#9a6448" stroke-width="2.10"/>
<line x1="455.40" y1="46.90" x2="462.57" y2="59.70" stroke="#9a6448" stroke-width="2.10"/>
<line x1="455.40" y1="46.90" x2="441.05" y2="46.90" stroke="#9a6448" stroke-width="2.10"/>
<line x1="484.10" y1="46.90" x2="476.92" y2="59.70" stroke="#9a6448" stroke-width="2.10"/>
<line x1="462.57" y1="59.70" x2="476.92" y2="59.70" stroke="#9a6448" stroke-width="2.10"/>
<line x1="462.57" y1="59.70" x2="455.40" y2="72.50" stroke="#9a6448" stroke-width="2.10"/>
<line x1="476.92" y1="59.70" x2="484.10" y2="72.50" stroke="#9a6448" stroke-width="2.10"/>
<line x1="441.05" y1="46.90" x2="433.87" y2="34.10" stroke="#9a6448" stroke-width="2.10"/>
<line x1="441.05" y1="46.90" x2="433.87" y2="59.70" stroke="#9a6448" stroke-width="2.10"/>
<line x1="455.40" y1="72.50" x2="441.05" y2="72.50" stroke="#9a6448" stroke-width="2.10"/>
<line x1="455.40" y1="72.50" x2="462.57" y2="85.30" stroke="#9a6448" stroke-width="2.10"/>
<line x1="484.10" y1="72.50" x2="476.92" y2="85.30" stroke="#9a6448" stroke-width="2.10"/>
<line x1="484.10" y1="72.50" x2="498.45" y2="72.50" stroke="#9a6448" stroke-width="2.10"/>
<line x1="441.05" y1="21.30" x2="433.87" y2="34.10" stroke="#9a6448" stroke-width="2.10"/>
<line x1="433.87" y1="59.70" x2="441.05" y2="72.50" stroke="#9a6448" stroke-width="2.10"/>
<line x1="462.57" y1="85.30" x2="476.92" y2="85.30" stroke="#9a6448" stroke-width="2.10"/>
<line x1="498.45" y1="72.50" x2="505.62" y2="59.70" stroke="#9a6448" stroke-width="2.10"/>
<line x1="416.90" y1="167.80" x2="409.73" y2="180.60" stroke="#9a6448" stroke-width="2.10"/>
<line x1="416.90" y1="167.80" x2="409.73" y2="155.00" stroke="#9a6448" stroke-width="2.10"/>
<line x1="416.90" y1="167.80" x2="431.25" y2="167.80" stroke="#9a6448" stroke-width="2.10"/>
<line x1="388.20" y1="167.80" x2="395.38" y2="155.00" stroke="#9a6448" stroke-width="2.10"/>
<line x1="409.73" y1="155.00" x2="395.38" y2="155.00" stroke="#9a6448" stroke-width="2.10"/>
<line x1="409.73" y1="155.00" x2="416.90" y2="142.20" stroke="#9a6448" stroke-width="2.10"/>
<line x1="395.38" y1="155.00" x2="388.20" y2="142.20" stroke="#9a6448" stroke-width="2.10"/>
<line x1="431.25" y1="167.80" x2="438.43" y2="180.60" stroke="#9a6448" stroke-width="2.10"/>
<line x1="431.25" y1="167.80" x2="438.43" y2="155.00" stroke="#9a6448" stroke-width="2.10"/>
<line x1="416.90" y1="142.20" x2="431.25" y2="142.20" stroke="#9a6448" stroke-width="2.10"/>
<line x1="416.90" y1="142.20" x2="409.73" y2="129.40" stroke="#9a6448" stroke-width="2.10"/>
<line x1="388.20" y1="142.20" x2="395.38" y2="129.40" stroke="#9a6448" stroke-width="2.10"/>
<line x1="388.20" y1="142.20" x2="373.85" y2="142.20" stroke="#9a6448" stroke-width="2.10"/>
<line x1="431.25" y1="193.40" x2="438.43" y2="180.60" stroke="#9a6448" stroke-width="2.10"/>
<line x1="438.43" y1="155.00" x2="431.25" y2="142.20" stroke="#9a6448" stroke-width="2.10"/>
<line x1="409.73" y1="129.40" x2="395.38" y2="129.40" stroke="#9a6448" stroke-width="2.10"/>
<line x1="373.85" y1="142.20" x2="366.68" y2="155.00" stroke="#9a6448" stroke-width="2.10"/>
<line x1="348.60" y1="46.90" x2="341.43" y2="34.10" stroke="#9a6448" stroke-width="2.10"/>
<line x1="348.60" y1="46.90" x2="341.43" y2="59.70" stroke="#9a6448" stroke-width="2.10"/>
<line x1="348.60" y1="46.90" x2="362.95" y2="46.90" stroke="#9a6448" stroke-width="2.10"/>
<line x1="341.43" y1="59.70" x2="348.60" y2="72.50" stroke="#9a6448" stroke-width="2.10"/>
<line x1="362.95" y1="46.90" x2="370.12" y2="34.10" stroke="#9a6448" stroke-width="2.10"/>
<line x1="362.95" y1="46.90" x2="370.12" y2="59.70" stroke="#9a6448" stroke-width="2.10"/>
<line x1="348.60" y1="72.50" x2="362.95" y2="72.50" stroke="#9a6448" stroke-width="2.10"/>
<line x1="348.60" y1="72.50" x2="341.43" y2="85.30" stroke="#9a6448" stroke-width="2.10"/>
<line x1="362.95" y1="21.30" x2="370.12" y2="34.10" stroke="#9a6448" stroke-width="2.10"/>
<line x1="370.12" y1="59.70" x2="362.95" y2="72.50" stroke="#9a6448" stroke-width="2.10"/>
<line x1="523.70" y1="167.80" x2="530.88" y2="180.60" stroke="#9a6448" stroke-width="2.10"/>
<line x1="523.70" y1="167.80" x2="530.88" y2="155.00" stroke="#9a6448" stroke-width="2.10"/>
<line x1="523.70" y1="167.80" x2="509.35" y2="167.80" stroke="#9a6448" stroke-width="2.10"/>
<line x1="530.88" y1="155.00" x2="523.70" y2="142.20" stroke="#9a6448" stroke-width="2.10"/>
<line x1="509.35" y1="167.80" x2="502.17" y2="180.60" stroke="#9a6448" stroke-width="2.10"/>
<line x1="509.35" y1="167.80" x2="502.17" y2="155.00" stroke="#9a6448" stroke-width="2.10"/>
<line x1="523.70" y1="142.20" x2="509.35" y2="142.20" stroke="#9a6448" stroke-width="2.10"/>
<line x1="523.70" y1="142.20" x2="530.88" y2="129.40" stroke="#9a6448" stroke-width="2.10"/>
<line x1="509.35" y1="193.40" x2="502.17" y2="180.60" stroke="#9a6448" stroke-width="2.10"/>
<line x1="502.17" y1="155.00" x2="509.35" y2="142.20" stroke="#9a6448" stroke-width="2.10"/>
<line x1="441.05" y1="21.30" x2="435.73" y2="14.34" stroke="#9a6448" stroke-width="2.20"/>
<line x1="435.73" y1="14.34" x2="430.41" y2="7.37" stroke="#dcdc48" stroke-width="2.20"/>
<line x1="433.87" y1="34.10" x2="425.41" y2="32.93" stroke="#9a6448" stroke-width="2.20"/>
<line x1="425.41" y1="32.93" x2="416.95" y2="31.76" stroke="#dcdc48" stroke-width="2.20"/>
<line x1="402.00" y1="46.90" x2="409.48" y2="39.33" stroke="#b4b6b8" stroke-width="2.50"/>
<line x1="409.48" y1="39.33" x2="416.95" y2="31.76" stroke="#dcdc48" stroke-width="2.50"/>
<line x1="433.87" y1="59.70" x2="425.41" y2="60.87" stroke="#9a6448" stroke-width="2.20"/>
<line x1="425.41" y1="60.87" x2="416.95" y2="62.04" stroke="#dcdc48" stroke-width="2.20"/>
<line x1="402.00" y1="46.90" x2="409.48" y2="54.47" stroke="#b4b6b8" stroke-width="2.50"/>
<line x1="409.48" y1="54.47" x2="416.95" y2="62.04" stroke="#dcdc48" stroke-width="2.50"/>
<line x1="441.05" y1="72.50" x2="435.94" y2="79.48" stroke="#9a6448" stroke-width="2.20"/>
<line x1="435.94" y1="79.48" x2="430.82" y2="86.46" stroke="#dcdc48" stroke-width="2.20"/>
<line x1="436.15" y1="107.35" x2="433.49" y2="96.91" stroke="#b4b6b8" stroke-width="2.50"/>
<line x1="433.49" y1="96.91" x2="430.82" y2="86.46" stroke="#dcdc48" stroke-width="2.50"/>
<line x1="462.57" y1="85.30" x2="459.46" y2="93.41" stroke="#9a6448" stroke-width="2.20"/>
<line x1="459.46" y1="93.41" x2="456.34" y2="101.51" stroke="#dcdc48" stroke-width="2.20"/>
<line x1="436.15" y1="107.35" x2="446.24" y2="104.43" stroke="#b4b6b8" stroke-width="2.50"/>
<line x1="446.24" y1="104.43" x2="456.34" y2="101.51" stroke="#dcdc48" stroke-width="2.50"/>
<line x1="476.92" y1="85.30" x2="480.30" y2="93.48" stroke="#9a6448" stroke-width="2.20"/>
<line x1="480.30" y1="93.48" x2="483.68" y2="101.66" stroke="#dcdc48" stroke-width="2.20"/>
<line x1="503.90" y1="107.35" x2="493.79" y2="104.50" stroke="#b4b6b8" stroke-width="2.50"/>
<line x1="493.79" y1="104.50" x2="483.68" y2="101.66" stroke="#dcdc48" stroke-width="2.50"/>
<line x1="498.45" y1="72.50" x2="503.77" y2="79.46" stroke="#9a6448" stroke-width="2.20"/>
<line x1="503.77" y1="79.46" x2="509.09" y2="86.43" stroke="#dcdc48" stroke-width="2.20"/>
<line x1="503.90" y1="107.35" x2="506.49" y2="96.89" stroke="#b4b6b8" stroke-width="2.50"/>
<line x1="506.49" y1="96.89" x2="509.09" y2="86.43" stroke="#dcdc48" stroke-width="2.50"/>
<line x1="505.62" y1="59.70" x2="514.09" y2="60.87" stroke="#9a6448" stroke-width="2.20"/>
<line x1="514.09" y1="60.87" x2="522.55" y2="62.04" stroke="#dcdc48" stroke-width="2.20"/>
<line x1="431.25" y1="193.40" x2="436.57" y2="200.36" stroke="#9a6448" stroke-width="2.20"/>
<line x1="436.57" y1="200.36" x2="441.89" y2="207.33" stroke="#dcdc48" stroke-width="2.20"/>
<line x1="438.43" y1="180.60" x2="446.89" y2="181.77" stroke="#9a6448" stroke-width="2.20"/>
<line x1="446.89" y1="181.77" x2="455.35" y2="182.94" stroke="#dcdc48" stroke-width="2.20"/>
<line x1="470.30" y1="167.80" x2="462.83" y2="175.37" stroke="#b4b6b8" stroke-width="2.50"/>
<line x1="462.83" y1="175.37" x2="455.35" y2="182.94" stroke="#dcdc48" stroke-width="2.50"/>
<line x1="438.43" y1="155.00" x2="446.89" y2="153.83" stroke="#9a6448" stroke-width="2.20"/>
<line x1="446.89" y1="153.83" x2="455.35" y2="152.66" stroke="#dcdc48" stroke-width="2.20"/>
<line x1="470.30" y1="167.80" x2="462.83" y2="160.23" stroke="#b4b6b8" stroke-width="2.50"/>
<line x1="462.83" y1="160.23" x2="455.35" y2="152.66" stroke="#dcdc48" stroke-width="2.50"/>
<line x1="431.25" y1="142.20" x2="436.36" y2="135.22" stroke="#9a6448" stroke-width="2.20"/>
<line x1="436.36" y1="135.22" x2="441.48" y2="128.24" stroke="#dcdc48" stroke-width="2.20"/>
<line x1="436.15" y1="107.35" x2="438.81" y2="117.79" stroke="#b4b6b8" stroke-width="2.50"/>
<line x1="438.81" y1="117.79" x2="441.48" y2="128.24" stroke="#dcdc48" stroke-width="2.50"/>
<line x1="409.73" y1="129.40" x2="412.84" y2="121.29" stroke="#9a6448" stroke-width="2.20"/>
<line x1="412.84" y1="121.29" x2="415.96" y2="113.19" stroke="#dcdc48" stroke-width="2.20"/>
<line x1="436.15" y1="107.35" x2="426.06" y2="110.27" stroke="#b4b6b8" stroke-width="2.50"/>
<line x1="426.06" y1="110.27" x2="415.96" y2="113.19" stroke="#dcdc48" stroke-width="2.50"/>
<line x1="395.38" y1="129.40" x2="392.00" y2="121.22" stroke="#9a6448" stroke-width="2.20"/>
<line x1="392.00" y1="121.22" x2="388.62" y2="113.04" stroke="#dcdc48" stroke-width="2.20"/>
<line x1="368.40" y1="107.35" x2="378.51" y2="110.20" stroke="#b4b6b8" stroke-width="2.50"/>
<line x1="378.51" y1="110.20" x2="388.62" y2="113.04" stroke="#dcdc48" stroke-width="2.50"/>
<line x1="373.85" y1="142.20" x2="368.53" y2="135.24" stroke="#9a6448" stroke-width="2.20"/>
<line x1="368.53" y1="135.24" x2="363.21" y2="128.27" stroke="#dcdc48" stroke-width="2.20"/>
<line x1="368.40" y1="107.35" x2="365.81" y2="117.81" stroke="#b4b6b8" stroke-width="2.50"/>
<line x1="365.81" y1="117.81" x2="363.21" y2="128.27" stroke="#dcdc48" stroke-width="2.50"/>
<line x1="366.68" y1="155.00" x2="358.21" y2="153.83" stroke="#9a6448" stroke-width="2.20"/>
<line x1="358.21" y1="153.83" x2="349.75" y2="152.66" stroke="#dcdc48" stroke-width="2.20"/>
<line x1="362.95" y1="21.30" x2="368.06" y2="14.32" stroke="#9a6448" stroke-width="2.20"/>
<line x1="368.06" y1="14.32" x2="373.18" y2="7.34" stroke="#dcdc48" stroke-width="2.20"/>
<line x1="370.12" y1="34.10" x2="378.59" y2="32.93" stroke="#9a6448" stroke-width="2.20"/>
<line x1="378.59" y1="32.93" x2="387.05" y2="31.76" stroke="#dcdc48" stroke-width="2.20"/>
<line x1="402.00" y1="46.90" x2="394.52" y2="39.33" stroke="#b4b6b8" stroke-width="2.50"/>
<line x1="394.52" y1="39.33" x2="387.05" y2="31.76" stroke="#dcdc48" stroke-width="2.50"/>
<line x1="370.12" y1="59.70" x2="378.59" y2="60.87" stroke="#9a6448" stroke-width="2.20"/>
<line x1="378.59" y1="60.87" x2="387.05" y2="62.04" stroke="#dcdc48" stroke-width="2.20"/>
<line x1="402.00" y1="46.90" x2="394.52" y2="54.47" stroke="#b4b6b8" stroke-width="2.50"/>
<line x1="394.52" y1="54.47" x2="387.05" y2="62.04" stroke="#dcdc48" stroke-width="2.50"/>
<line x1="362.95" y1="72.50" x2="368.27" y2="79.46" stroke="#9a6448" stroke-width="2.20"/>
<line x1="368.27" y1="79.46" x2="373.59" y2="86.43" stroke="#dcdc48" stroke-width="2.20"/>
<line x1="368.40" y1="107.35" x2="370.99" y2="96.89" stroke="#b4b6b8" stroke-width="2.50"/>
<line x1="370.99" y1="96.89" x2="373.59" y2="86.43" stroke="#dcdc48" stroke-width="2.50"/>
<line x1="341.43" y1="85.30" x2="344.80" y2="93.48" stroke="#9a6448" stroke-width="2.20"/>
<line x1="344.80" y1="93.48" x2="348.18" y2="101.66" stroke="#dcdc48" stroke-width="2.20"/>
<line x1="368.40" y1="107.35" x2="358.29" y2="104.50" stroke="#b4b6b8" stroke-width="2.50"/>
<line x1="358.29" y1="104.50" x2="348.18" y2="101.66" stroke="#dcdc48" stroke-width="2.50"/>
<line x1="509.35" y1="193.40" x2="504.24" y2="200.38" stroke="#9a6448" stroke-width="2.20"/>
<line x1="504.24" y1="200.38" x2="499.12" y2="207.36" stroke="#dcdc48" stroke-width="2.20"/>
<line x1="502.17" y1="180.60" x2="493.71" y2="181.77" stroke="#9a6448" stroke-width="2.20"/>
<line x1="493.71" y1="181.77" x2="485.25" y2="182.94" stroke="#dcdc48" stroke-width="2.20"/>
<line x1="470.30" y1="167.80" x2="477.77" y2="175.37" stroke="#b4b6b8" stroke-width="2.50"/>
<line x1="477.77" y1="175.37" x2="485.25" y2="182.94" stroke="#dcdc48" stroke-width="2.50"/>
<line x1="502.17" y1="155.00" x2="493.71" y2="153.83" stroke="#9a6448" stroke-width="2.20"/>
<line x1="493.71" y1="153.83" x2="485.25" y2="152.66" stroke="#dcdc48" stroke-width="2.20"/>
<line x1="470.30" y1="167.80" x2="477.77" y2="160.23" stroke="#b4b6b8" stroke-width="2.50"/>
<line x1="477.77" y1="160.23" x2="485.25" y2="152.66" stroke="#dcdc48" stroke-width="2.50"/>
<line x1="509.35" y1="142.20" x2="504.03" y2="135.24" stroke="#9a6448" stroke-width="2.20"/>
<line x1="504.03" y1="135.24" x2="498.71" y2="128.27" stroke="#dcdc48" stroke-width="2.20"/>
<line x1="503.90" y1="107.35" x2="501.31" y2="117.81" stroke="#b4b6b8" stroke-width="2.50"/>
<line x1="501.31" y1="117.81" x2="498.71" y2="128.27" stroke="#dcdc48" stroke-width="2.50"/>
<line x1="530.88" y1="129.40" x2="527.50" y2="121.22" stroke="#9a6448" stroke-width="2.20"/>
<line x1="527.50" y1="121.22" x2="524.12" y2="113.04" stroke="#dcdc48" stroke-width="2.20"/>
<line x1="503.90" y1="107.35" x2="514.01" y2="110.20" stroke="#b4b6b8" stroke-width="2.50"/>
<line x1="514.01" y1="110.20" x2="524.12" y2="113.04" stroke="#dcdc48" stroke-width="2.50"/>
</g>
<g>
<line x1="455.40" y1="46.90" x2="462.57" y2="34.10" stroke="#b8866a" stroke-width="0.95"/>
<line x1="455.40" y1="46.90" x2="462.57" y2="59.70" stroke="#b8866a" stroke-width="0.95"/>
<line x1="455.40" y1="46.90" x2="441.05" y2="46.90" stroke="#b8866a" stroke-width="0.95"/>
<line x1="484.10" y1="46.90" x2="476.92" y2="59.70" stroke="#b8866a" stroke-width="0.95"/>
<line x1="462.57" y1="59.70" x2="476.92" y2="59.70" stroke="#b8866a" stroke-width="0.95"/>
<line x1="462.57" y1="59.70" x2="455.40" y2="72.50" stroke="#b8866a" stroke-width="0.95"/>
<line x1="476.92" y1="59.70" x2="484.10" y2="72.50" stroke="#b8866a" stroke-width="0.95"/>
<line x1="441.05" y1="46.90" x2="433.87" y2="34.10" stroke="#b8866a" stroke-width="0.95"/>
<line x1="441.05" y1="46.90" x2="433.87" y2="59.70" stroke="#b8866a" stroke-width="0.95"/>
<line x1="455.40" y1="72.50" x2="441.05" y2="72.50" stroke="#b8866a" stroke-width="0.95"/>
<line x1="455.40" y1="72.50" x2="462.57" y2="85.30" stroke="#b8866a" stroke-width="0.95"/>
<line x1="484.10" y1="72.50" x2="476.92" y2="85.30" stroke="#b8866a" stroke-width="0.95"/>
<line x1="484.10" y1="72.50" x2="498.45" y2="72.50" stroke="#b8866a" stroke-width="0.95"/>
<line x1="441.05" y1="21.30" x2="433.87" y2="34.10" stroke="#b8866a" stroke-width="0.95"/>
<line x1="433.87" y1="59.70" x2="441.05" y2="72.50" stroke="#b8866a" stroke-width="0.95"/>
<line x1="462.57" y1="85.30" x2="476.92" y2="85.30" stroke="#b8866a" stroke-width="0.95"/>
<line x1="498.45" y1="72.50" x2="505.62" y2="59.70" stroke="#b8866a" stroke-width="0.95"/>
<line x1="416.90" y1="167.80" x2="409.73" y2="180.60" stroke="#b8866a" stroke-width="0.95"/>
<line x1="416.90" y1="167.80" x2="409.73" y2="155.00" stroke="#b8866a" stroke-width="0.95"/>
<line x1="416.90" y1="167.80" x2="431.25" y2="167.80" stroke="#b8866a" stroke-width="0.95"/>
<line x1="388.20" y1="167.80" x2="395.38" y2="155.00" stroke="#b8866a" stroke-width="0.95"/>
<line x1="409.73" y1="155.00" x2="395.38" y2="155.00" stroke="#b8866a" stroke-width="0.95"/>
<line x1="409.73" y1="155.00" x2="416.90" y2="142.20" stroke="#b8866a" stroke-width="0.95"/>
<line x1="395.38" y1="155.00" x2="388.20" y2="142.20" stroke="#b8866a" stroke-width="0.95"/>
<line x1="431.25" y1="167.80" x2="438.43" y2="180.60" stroke="#b8866a" stroke-width="0.95"/>
<line x1="431.25" y1="167.80" x2="438.43" y2="155.00" stroke="#b8866a" stroke-width="0.95"/>
<line x1="416.90" y1="142.20" x2="431.25" y2="142.20" stroke="#b8866a" stroke-width="0.95"/>
<line x1="416.90" y1="142.20" x2="409.73" y2="129.40" stroke="#b8866a" stroke-width="0.95"/>
<line x1="388.20" y1="142.20" x2="395.38" y2="129.40" stroke="#b8866a" stroke-width="0.95"/>
<line x1="388.20" y1="142.20" x2="373.85" y2="142.20" stroke="#b8866a" stroke-width="0.95"/>
<line x1="431.25" y1="193.40" x2="438.43" y2="180.60" stroke="#b8866a" stroke-width="0.95"/>
<line x1="438.43" y1="155.00" x2="431.25" y2="142.20" stroke="#b8866a" stroke-width="0.95"/>
<line x1="409.73" y1="129.40" x2="395.38" y2="129.40" stroke="#b8866a" stroke-width="0.95"/>
<line x1="373.85" y1="142.20" x2="366.68" y2="155.00" stroke="#b8866a" stroke-width="0.95"/>
<line x1="348.60" y1="46.90" x2="341.43" y2="34.10" stroke="#b8866a" stroke-width="0.95"/>
<line x1="348.60" y1="46.90" x2="341.43" y2="59.70" stroke="#b8866a" stroke-width="0.95"/>
<line x1="348.60" y1="46.90" x2="362.95" y2="46.90" stroke="#b8866a" stroke-width="0.95"/>
<line x1="341.43" y1="59.70" x2="348.60" y2="72.50" stroke="#b8866a" stroke-width="0.95"/>
<line x1="362.95" y1="46.90" x2="370.12" y2="34.10" stroke="#b8866a" stroke-width="0.95"/>
<line x1="362.95" y1="46.90" x2="370.12" y2="59.70" stroke="#b8866a" stroke-width="0.95"/>
<line x1="348.60" y1="72.50" x2="362.95" y2="72.50" stroke="#b8866a" stroke-width="0.95"/>
<line x1="348.60" y1="72.50" x2="341.43" y2="85.30" stroke="#b8866a" stroke-width="0.95"/>
<line x1="362.95" y1="21.30" x2="370.12" y2="34.10" stroke="#b8866a" stroke-width="0.95"/>
<line x1="370.12" y1="59.70" x2="362.95" y2="72.50" stroke="#b8866a" stroke-width="0.95"/>
<line x1="523.70" y1="167.80" x2="530.88" y2="180.60" stroke="#b8866a" stroke-width="0.95"/>
<line x1="523.70" y1="167.80" x2="530.88" y2="155.00" stroke="#b8866a" stroke-width="0.95"/>
<line x1="523.70" y1="167.80" x2="509.35" y2="167.80" stroke="#b8866a" stroke-width="0.95"/>
<line x1="530.88" y1="155.00" x2="523.70" y2="142.20" stroke="#b8866a" stroke-width="0.95"/>
<line x1="509.35" y1="167.80" x2="502.17" y2="180.60" stroke="#b8866a" stroke-width="0.95"/>
<line x1="509.35" y1="167.80" x2="502.17" y2="155.00" stroke="#b8866a" stroke-width="0.95"/>
<line x1="523.70" y1="142.20" x2="509.35" y2="142.20" stroke="#b8866a" stroke-width="0.95"/>
<line x1="523.70" y1="142.20" x2="530.88" y2="129.40" stroke="#b8866a" stroke-width="0.95"/>
<line x1="509.35" y1="193.40" x2="502.17" y2="180.60" stroke="#b8866a" stroke-width="0.95"/>
<line x1="502.17" y1="155.00" x2="509.35" y2="142.20" stroke="#b8866a" stroke-width="0.95"/>
<line x1="441.05" y1="21.30" x2="435.73" y2="14.34" stroke="#b8866a" stroke-width="0.99"/>
<line x1="435.73" y1="14.34" x2="430.41" y2="7.37" stroke="#eeee88" stroke-width="0.99"/>
<line x1="433.87" y1="34.10" x2="425.41" y2="32.93" stroke="#b8866a" stroke-width="0.99"/>
<line x1="425.41" y1="32.93" x2="416.95" y2="31.76" stroke="#eeee88" stroke-width="0.99"/>
<line x1="402.00" y1="46.90" x2="409.48" y2="39.33" stroke="#e0e2e4" stroke-width="1.12"/>
<line x1="409.48" y1="39.33" x2="416.95" y2="31.76" stroke="#eeee88" stroke-width="1.12"/>
<line x1="433.87" y1="59.70" x2="425.41" y2="60.87" stroke="#b8866a" stroke-width="0.99"/>
<line x1="425.41" y1="60.87" x2="416.95" y2="62.04" stroke="#eeee88" stroke-width="0.99"/>
<line x1="402.00" y1="46.90" x2="409.48" y2="54.47" stroke="#e0e2e4" stroke-width="1.12"/>
<line x1="409.48" y1="54.47" x2="416.95" y2="62.04" stroke="#eeee88" stroke-width="1.12"/>
<line x1="441.05" y1="72.50" x2="435.94" y2="79.48" stroke="#b8866a" stroke-width="0.99"/>
<line x1="435.94" y1="79.48" x2="430.82" y2="86.46" stroke="#eeee88" stroke-width="0.99"/>
<line x1="436.15" y1="107.35" x2="433.49" y2="96.91" stroke="#e0e2e4" stroke-width="1.12"/>
<line x1="433.49" y1="96.91" x2="430.82" y2="86.46" stroke="#eeee88" stroke-width="1.12"/>
<line x1="462.57" y1="85.30" x2="459.46" y2="93.41" stroke="#b8866a" stroke-width="0.99"/>
<line x1="459.46" y1="93.41" x2="456.34" y2="101.51" stroke="#eeee88" stroke-width="0.99"/>
<line x1="436.15" y1="107.35" x2="446.24" y2="104.43" stroke="#e0e2e4" stroke-width="1.12"/>
<line x1="446.24" y1="104.43" x2="456.34" y2="101.51" stroke="#eeee88" stroke-width="1.12"/>
<line x1="476.92" y1="85.30" x2="480.30" y2="93.48" stroke="#b8866a" stroke-width="0.99"/>
<line x1="480.30" y1="93.48" x2="483.68" y2="101.66" stroke="#eeee88" stroke-width="0.99"/>
<line x1="503.90" y1="107.35" x2="493.79" y2="104.50" stroke="#e0e2e4" stroke-width="1.12"/>
<line x1="493.79" y1="104.50" x2="483.68" y2="101.66" stroke="#eeee88" stroke-width="1.12"/>
<line x1="498.45" y1="72.50" x2="503.77" y2="79.46" stroke="#b8866a" stroke-width="0.99"/>
<line x1="503.77" y1="79.46" x2="509.09" y2="86.43" stroke="#eeee88" stroke-width="0.99"/>
<line x1="503.90" y1="107.35" x2="506.49" y2="96.89" stroke="#e0e2e4" stroke-width="1.12"/>
<line x1="506.49" y1="96.89" x2="509.09" y2="86.43" stroke="#eeee88" stroke-width="1.12"/>
<line x1="505.62" y1="59.70" x2="514.09" y2="60.87" stroke="#b8866a" stroke-width="0.99"/>
<line x1="514.09" y1="60.87" x2="522.55" y2="62.04" stroke="#eeee88" stroke-width="0.99"/>
<line x1="431.25" y1="193.40" x2="436.57" y2="200.36" stroke="#b8866a" stroke-width="0.99"/>
<line x1="436.57" y1="200.36" x2="441.89" y2="207.33" stroke="#eeee88" stroke-width="0.99"/>
<line x1="438.43" y1="180.60" x2="446.89" y2="181.77" stroke="#b8866a" stroke-width="0.99"/>
<line x1="446.89" y1="181.77" x2="455.35" y2="182.94" stroke="#eeee88" stroke-width="0.99"/>
<line x1="470.30" y1="167.80" x2="462.83" y2="175.37" stroke="#e0e2e4" stroke-width="1.12"/>
<line x1="462.83" y1="175.37" x2="455.35" y2="182.94" stroke="#eeee88" stroke-width="1.12"/>
<line x1="438.43" y1="155.00" x2="446.89" y2="153.83" stroke="#b8866a" stroke-width="0.99"/>
<line x1="446.89" y1="153.83" x2="455.35" y2="152.66" stroke="#eeee88" stroke-width="0.99"/>
<line x1="470.30" y1="167.80" x2="462.83" y2="160.23" stroke="#e0e2e4" stroke-width="1.12"/>
<line x1="462.83" y1="160.23" x2="455.35" y2="152.66" stroke="#eeee88" stroke-width="1.12"/>
<line x1="431.25" y1="142.20" x2="436.36" y2="135.22" stroke="#b8866a" stroke-width="0.99"/>
<line x1="436.36" y1="135.22" x2="441.48" y2="128.24" stroke="#eeee88" stroke-width="0.99"/>
<line x1="436.15" y1="107.35" x2="438.81" y2="117.79" stroke="#e0e2e4" stroke-width="1.12"/>
<line x1="438.81" y1="117.79" x2="441.48" y2="128.24" stroke="#eeee88" stroke-width="1.12"/>
<line x1="409.73" y1="129.40" x2="412.84" y2="121.29" stroke="#b8866a" stroke-width="0.99"/>
<line x1="412.84" y1="121.29" x2="415.96" y2="113.19" stroke="#eeee88" stroke-width="0.99"/>
<line x1="436.15" y1="107.35" x2="426.06" y2="110.27" stroke="#e0e2e4" stroke-width="1.12"/>
<line x1="426.06" y1="110.27" x2="415.96" y2="113.19" stroke="#eeee88" stroke-width="1.12"/>
<line x1="395.38" y1="129.40" x2="392.00" y2="121.22" stroke="#b8866a" stroke-width="0.99"/>
<line x1="392.00" y1="121.22" x2="388.62" y2="113.04" stroke="#eeee88" stroke-width="0.99"/>
<line x1="368.40" y1="107.35" x2="378.51" y2="110.20" stroke="#e0e2e4" stroke-width="1.12"/>
<line x1="378.51" y1="110.20" x2="388.62" y2="113.04" stroke="#eeee88" stroke-width="1.12"/>
<line x1="373.85" y1="142.20" x2="368.53" y2="135.24" stroke="#b8866a" stroke-width="0.99"/>
<line x1="368.53" y1="135.24" x2="363.21" y2="128.27" stroke="#eeee88" stroke-width="0.99"/>
<line x1="368.40" y1="107.35" x2="365.81" y2="117.81" stroke="#e0e2e4" stroke-width="1.12"/>
<line x1="365.81" y1="117.81" x2="363.21" y2="128.27" stroke="#eeee88" stroke-width="1.12"/>
<line x1="366.68" y1="155.00" x2="358.21" y2="153.83" stroke="#b8866a" stroke-width="0.99"/>
<line x1="358.21" y1="153.83" x2="349.75" y2="152.66" stroke="#eeee88" stroke-width="0.99"/>
<line x1="362.95" y1="21.30" x2="368.06" y2="14.32" stroke="#b8866a" stroke-width="0.99"/>
<line x1="368.06" y1="14.32" x2="373.18" y2="7.34" stroke="#eeee88" stroke-width="0.99"/>
<line x1="370.12" y1="34.10" x2="378.59" y2="32.93" stroke="#b8866a" stroke-width="0.99"/>
<line x1="378.59" y1="32.93" x2="387.05" y2="31.76" stroke="#eeee88" stroke-width="0.99"/>
<line x1="402.00" y1="46.90" x2="394.52" y2="39.33" stroke="#e0e2e4" stroke-width="1.12"/>
<line x1="394.52" y1="39.33" x2="387.05" y2="31.76" stroke="#eeee88" stroke-width="1.12"/>
<line x1="370.12" y1="59.70" x2="378.59" y2="60.87" stroke="#b8866a" stroke-width="0.99"/>
<line x1="378.59" y1="60.87" x2="387.05" y2="62.04" stroke="#eeee88" stroke-width="0.99"/>
<line x1="402.00" y1="46.90" x2="394.52" y2="54.47" stroke="#e0e2e4" stroke-width="1.12"/>
<line x1="394.52" y1="54.47" x2="387.05" y2="62.04" stroke="#eeee88" stroke-width="1.12"/>
<line x1="362.95" y1="72.50" x2="368.27" y2="79.46" stroke="#b8866a" stroke-width="0.99"/>
<line x1="368.27" y1="79.46" x2="373.59" y2="86.43" stroke="#eeee88" stroke-width="0.99"/>
<line x1="368.40" y1="107.35" x2="370.99" y2="96.89" stroke="#e0e2e4" stroke-width="1.12"/>
<line x1="370.99" y1="96.89" x2="373.59" y2="86.43" stroke="#eeee88" stroke-width="1.12"/>
<line x1="341.43" y1="85.30" x2="344.80" y2="93.48" stroke="#b8866a" stroke-width="0.99"/>
<line x1="344.80" y1="93.48" x2="348.18" y2="101.66" stroke="#eeee88" stroke-width="0.99"/>
<line x1="368.40" y1="107.35" x2="358.29" y2="104.50" stroke="#e0e2e4" stroke-width="1.12"/>
<line x1="358.29" y1="104.50" x2="348.18" y2="101.66" stroke="#eeee88" stroke-width="1.12"/>
<line x1="509.35" y1="193.40" x2="504.24" y2="200.38" stroke="#b8866a" stroke-width="0.99"/>
<line x1="504.24" y1="200.38" x2="499.12" y2="207.36" stroke="#eeee88" stroke-width="0.99"/>
<line x1="502.17" y1="180.60" x2="493.71" y2="181.77" stroke="#b8866a" stroke-width="0.99"/>
<line x1="493.71" y1="181.77" x2="485.25" y2="182.94" stroke="#eeee88" stroke-width="0.99"/>
<line x1="470.30" y1="167.80" x2="477.77" y2="175.37" stroke="#e0e2e4" stroke-width="1.12"/>
<line x1="477.77" y1="175.37" x2="485.25" y2="182.94" stroke="#eeee88" stroke-width="1.12"/>
<line x1="502.17" y1="155.00" x2="493.71" y2="153.83" stroke="#b8866a" stroke-width="0.99"/>
<line x1="493.71" y1="153.83" x2="485.25" y2="152.66" stroke="#eeee88" stroke-width="0.99"/>
<line x1="470.30" y1="167.80" x2="477.77" y2="160.23" stroke="#e0e2e4" stroke-width="1.12"/>
<line x1="477.77" y1="160.23" x2="485.25" y2="152.66" stroke="#eeee88" stroke-width="1.12"/>
<line x1="509.35" y1="142.20" x2="504.03" y2="135.24" stroke="#b8866a" stroke-width="0.99"/>
<line x1="504.03" y1="135.24" x2="498.71" y2="128.27" stroke="#eeee88" stroke-width="0.99"/>
<line x1="503.90" y1="107.35" x2="501.31" y2="117.81" stroke="#e0e2e4" stroke-width="1.12"/>
<line x1="501.31" y1="117.81" x2="498.71" y2="128.27" stroke="#eeee88" stroke-width="1.12"/>
<line x1="530.88" y1="129.40" x2="527.50" y2="121.22" stroke="#b8866a" stroke-width="0.99"/>
<line x1="527.50" y1="121.22" x2="524.12" y2="113.04" stroke="#eeee88" stroke-width="0.99"/>
<line x1="503.90" y1="107.35" x2="514.01" y2="110.20" stroke="#e0e2e4" stroke-width="1.12"/>
<line x1="514.01" y1="110.20" x2="524.12" y2="113.04" stroke="#eeee88" stroke-width="1.12"/>
</g>
<circle cx="430.41" cy="7.37" r="3.9" fill="url(#gS)"/>
<circle cx="416.95" cy="31.76" r="3.9" fill="url(#gS)"/>
<circle cx="416.95" cy="62.04" r="3.9" fill="url(#gS)"/>
<circle cx="430.82" cy="86.46" r="3.9" fill="url(#gS)"/>
<circle cx="456.34" cy="101.51" r="3.9" fill="url(#gS)"/>
<circle cx="483.68" cy="101.66" r="3.9" fill="url(#gS)"/>
<circle cx="509.09" cy="86.43" r="3.9" fill="url(#gS)"/>
<circle cx="522.55" cy="62.04" r="3.9" fill="url(#gS)"/>
<circle cx="441.89" cy="207.33" r="3.9" fill="url(#gS)"/>
<circle cx="455.35" cy="182.94" r="3.9" fill="url(#gS)"/>
<circle cx="455.35" cy="152.66" r="3.9" fill="url(#gS)"/>
<circle cx="441.48" cy="128.24" r="3.9" fill="url(#gS)"/>
<circle cx="415.96" cy="113.19" r="3.9" fill="url(#gS)"/>
<circle cx="388.62" cy="113.04" r="3.9" fill="url(#gS)"/>
<circle cx="363.21" cy="128.27" r="3.9" fill="url(#gS)"/>
<circle cx="349.75" cy="152.66" r="3.9" fill="url(#gS)"/>
<circle cx="373.18" cy="7.34" r="3.9" fill="url(#gS)"/>
<circle cx="387.05" cy="31.76" r="3.9" fill="url(#gS)"/>
<circle cx="387.05" cy="62.04" r="3.9" fill="url(#gS)"/>
<circle cx="373.59" cy="86.43" r="3.9" fill="url(#gS)"/>
<circle cx="348.18" cy="101.66" r="3.9" fill="url(#gS)"/>
<circle cx="499.12" cy="207.36" r="3.9" fill="url(#gS)"/>
<circle cx="485.25" cy="182.94" r="3.9" fill="url(#gS)"/>
<circle cx="485.25" cy="152.66" r="3.9" fill="url(#gS)"/>
<circle cx="498.71" cy="128.27" r="3.9" fill="url(#gS)"/>
<circle cx="524.12" cy="113.04" r="3.9" fill="url(#gS)"/>
<circle cx="470.30" cy="167.80" r="5.3" fill="url(#gNi)"/>
<circle cx="368.40" cy="107.35" r="5.3" fill="url(#gNi)"/>
<circle cx="436.15" cy="107.35" r="5.3" fill="url(#gNi)"/>
<circle cx="503.90" cy="107.35" r="5.3" fill="url(#gNi)"/>
<circle cx="402.00" cy="46.90" r="5.3" fill="url(#gNi)"/>
<circle cx="455.40" cy="46.90" r="2.75" fill="url(#gC)"/>
<circle cx="484.10" cy="46.90" r="2.75" fill="url(#gC)"/>
<circle cx="462.57" cy="34.10" r="2.75" fill="url(#gC)"/>
<circle cx="462.57" cy="59.70" r="2.75" fill="url(#gC)"/>
<circle cx="476.92" cy="59.70" r="2.75" fill="url(#gC)"/>
<circle cx="441.05" cy="46.90" r="2.75" fill="url(#gC)"/>
<circle cx="455.40" cy="72.50" r="2.75" fill="url(#gC)"/>
<circle cx="484.10" cy="72.50" r="2.75" fill="url(#gC)"/>
<circle cx="441.05" cy="21.30" r="2.75" fill="url(#gC)"/>
<circle cx="433.87" cy="34.10" r="2.75" fill="url(#gC)"/>
<circle cx="433.87" cy="59.70" r="2.75" fill="url(#gC)"/>
<circle cx="441.05" cy="72.50" r="2.75" fill="url(#gC)"/>
<circle cx="462.57" cy="85.30" r="2.75" fill="url(#gC)"/>
<circle cx="476.92" cy="85.30" r="2.75" fill="url(#gC)"/>
<circle cx="498.45" cy="72.50" r="2.75" fill="url(#gC)"/>
<circle cx="505.62" cy="59.70" r="2.75" fill="url(#gC)"/>
<circle cx="416.90" cy="167.80" r="2.75" fill="url(#gC)"/>
<circle cx="388.20" cy="167.80" r="2.75" fill="url(#gC)"/>
<circle cx="409.73" cy="180.60" r="2.75" fill="url(#gC)"/>
<circle cx="409.73" cy="155.00" r="2.75" fill="url(#gC)"/>
<circle cx="395.38" cy="155.00" r="2.75" fill="url(#gC)"/>
<circle cx="431.25" cy="167.80" r="2.75" fill="url(#gC)"/>
<circle cx="416.90" cy="142.20" r="2.75" fill="url(#gC)"/>
<circle cx="388.20" cy="142.20" r="2.75" fill="url(#gC)"/>
<circle cx="431.25" cy="193.40" r="2.75" fill="url(#gC)"/>
<circle cx="438.43" cy="180.60" r="2.75" fill="url(#gC)"/>
<circle cx="438.43" cy="155.00" r="2.75" fill="url(#gC)"/>
<circle cx="431.25" cy="142.20" r="2.75" fill="url(#gC)"/>
<circle cx="409.73" cy="129.40" r="2.75" fill="url(#gC)"/>
<circle cx="395.38" cy="129.40" r="2.75" fill="url(#gC)"/>
<circle cx="373.85" cy="142.20" r="2.75" fill="url(#gC)"/>
<circle cx="366.68" cy="155.00" r="2.75" fill="url(#gC)"/>
<circle cx="348.60" cy="46.90" r="2.75" fill="url(#gC)"/>
<circle cx="341.43" cy="34.10" r="2.75" fill="url(#gC)"/>
<circle cx="341.43" cy="59.70" r="2.75" fill="url(#gC)"/>
<circle cx="362.95" cy="46.90" r="2.75" fill="url(#gC)"/>
<circle cx="348.60" cy="72.50" r="2.75" fill="url(#gC)"/>
<circle cx="362.95" cy="21.30" r="2.75" fill="url(#gC)"/>
<circle cx="370.12" cy="34.10" r="2.75" fill="url(#gC)"/>
<circle cx="370.12" cy="59.70" r="2.75" fill="url(#gC)"/>
<circle cx="362.95" cy="72.50" r="2.75" fill="url(#gC)"/>
<circle cx="341.43" cy="85.30" r="2.75" fill="url(#gC)"/>
<circle cx="523.70" cy="167.80" r="2.75" fill="url(#gC)"/>
<circle cx="530.88" cy="180.60" r="2.75" fill="url(#gC)"/>
<circle cx="530.88" cy="155.00" r="2.75" fill="url(#gC)"/>
<circle cx="509.35" cy="167.80" r="2.75" fill="url(#gC)"/>
<circle cx="523.70" cy="142.20" r="2.75" fill="url(#gC)"/>
<circle cx="509.35" cy="193.40" r="2.75" fill="url(#gC)"/>
<circle cx="502.17" cy="180.60" r="2.75" fill="url(#gC)"/>
<circle cx="502.17" cy="155.00" r="2.75" fill="url(#gC)"/>
<circle cx="509.35" cy="142.20" r="2.75" fill="url(#gC)"/>
<circle cx="530.88" cy="129.40" r="2.75" fill="url(#gC)"/>
<path d="M334.25 46.90L469.75 46.90L538.05 167.80" fill="none" stroke="#505050" stroke-width="0.75"/>
<line x1="402.55" y1="167.80" x2="531.65" y2="167.80" stroke="#000" stroke-width="1.05"/>
<path d="M538.05 167.80L531.65 169.50L531.65 166.10Z" fill="#000"/>
<line x1="402.55" y1="167.80" x2="337.40" y2="52.47" stroke="#000" stroke-width="1.05"/>
<path d="M334.25 46.90L338.88 51.64L335.92 53.31Z" fill="#000"/>
<line x1="384.20" y1="86.96" x2="420.80" y2="88.04" stroke="#000" stroke-width="1.2"/>
<path d="M378.90 86.80L384.15 88.56L384.25 85.36Z" fill="#000"/>
<path d="M426.10 88.20L420.75 89.64L420.85 86.44Z" fill="#000"/>
<text transform="translate(384.80,104.60) scale(1.04,1.0)" font-family="'Liberation Serif','Times New Roman',serif" font-size="15.2" text-anchor="start" font-weight="normal" font-style="normal" >5.67Å</text>
<text transform="translate(288.40,34.50) scale(1.04,1.0)" font-family="'Liberation Serif','Times New Roman',serif" font-size="20.5" text-anchor="start" font-weight="normal" font-style="normal" >(b)</text>
<circle cx="293.90" cy="60.7" r="6.3" fill="url(#gNiL)"/>
<circle cx="293.90" cy="76.8" r="5.2" fill="url(#gSL)"/>
<circle cx="293.90" cy="92.7" r="3.9" fill="url(#gCL)"/>
<text x="303.40" y="64.60" font-family="'Liberation Serif','Times New Roman',serif" font-size="12" text-anchor="start" font-weight="normal" font-style="normal" >Ni</text>
<text x="303.40" y="80.20" font-family="'Liberation Serif','Times New Roman',serif" font-size="12" text-anchor="start" font-weight="normal" font-style="normal" >S</text>
<text x="303.40" y="96.60" font-family="'Liberation Serif','Times New Roman',serif" font-size="12" text-anchor="start" font-weight="normal" font-style="normal" >C</text>
<text x="538.35" y="178.40" font-family="'Liberation Serif','Times New Roman',serif" font-size="17.5" text-anchor="start" font-weight="normal" font-style="normal" >a</text>
<text x="324.80" y="58.30" font-family="'Liberation Serif','Times New Roman',serif" font-size="17" text-anchor="start" font-weight="normal" font-style="normal" >b</text>
<text x="402.75" y="167.20" font-family="'Liberation Serif','Times New Roman',serif" font-size="14.5" text-anchor="start" font-weight="bold" font-style="italic" >α</text>
<path d="M63.50 413.62C76.58 413.62 88.62 417.17 102.74 392.63C116.86 368.09 133.18 266.45 148.22 266.37C163.26 266.29 178.19 367.61 192.99 392.15C207.80 416.70 222.38 413.62 237.07 413.62" fill="none" stroke="#1ee81e" stroke-width="1.05"/>
<path d="M126.69 384.52C134.25 364.25 140.97 291.97 148.22 291.97C155.46 291.97 162.84 364.25 170.15 384.52" fill="none" stroke="#1a1aff" stroke-width="1.05"/>
<path d="M117.73 413.62L132.72 412.67L148.22 402.17L163.51 412.83L178.40 413.62" fill="none" stroke="#000000" stroke-width="1.05"/>
<path d="M102.84 413.62C110.45 413.62 118.12 405.41 125.68 389.77C133.24 374.13 140.84 320.06 148.22 319.80C155.60 319.53 162.64 372.54 169.95 388.18C177.26 403.82 184.71 413.62 192.09 413.62" fill="none" stroke="#8a2be2" stroke-width="1.05"/>
<path d="M68.93 413.62C82.15 413.62 95.36 407.90 108.58 399.87C121.79 391.84 135.05 365.45 148.22 365.44C161.38 365.43 174.33 391.76 187.56 399.79C200.79 407.82 214.26 413.62 227.61 413.62" fill="none" stroke="#ff1e1e" stroke-width="1.05"/>
<path d="M117.73 413.62C122.83 413.62 127.94 403.92 133.03 385.16C138.11 366.39 143.17 300.93 148.22 301.03C153.27 301.14 158.28 367.03 163.31 385.79C168.34 404.56 173.37 413.62 178.40 413.62" fill="none" stroke="#b8862e" stroke-width="1.05"/>
<path d="M117.73 413.62C123.00 413.62 128.45 412.56 133.53 407.26C138.61 401.96 143.27 381.55 148.22 381.82C153.17 382.08 158.18 403.55 163.21 408.85C168.24 414.15 173.34 413.62 178.40 413.62" fill="none" stroke="#1ee6f0" stroke-width="1.05"/>
<path d="M60.05 410.86L66.95 410.86L63.50 416.90Z" fill="#1ee81e"/>
<path d="M99.29 389.87L106.19 389.87L102.74 395.91Z" fill="#1ee81e"/>
<path d="M144.77 263.61L151.67 263.61L148.22 269.65Z" fill="#1ee81e"/>
<path d="M189.54 389.39L196.44 389.39L192.99 395.43Z" fill="#1ee81e"/>
<path d="M233.62 410.86L240.52 410.86L237.07 416.90Z" fill="#1ee81e"/>
<path d="M123.24 387.28L130.14 387.28L126.69 381.24Z" fill="#1a1aff"/>
<path d="M144.77 294.73L151.67 294.73L148.22 288.69Z" fill="#1a1aff"/>
<path d="M166.70 387.28L173.60 387.28L170.15 381.24Z" fill="#1a1aff"/>
<rect x="115.21" y="411.10" width="5.04" height="5.04" fill="#000000"/>
<rect x="130.20" y="410.15" width="5.04" height="5.04" fill="#000000"/>
<rect x="145.70" y="399.65" width="5.04" height="5.04" fill="#000000"/>
<rect x="160.99" y="410.31" width="5.04" height="5.04" fill="#000000"/>
<rect x="175.88" y="411.10" width="5.04" height="5.04" fill="#000000"/>
<path d="M102.84 410.31L106.15 413.62L102.84 416.93L99.53 413.62Z" fill="#8a2be2"/>
<path d="M125.68 386.46L128.99 389.77L125.68 393.08L122.37 389.77Z" fill="#8a2be2"/>
<path d="M148.22 316.49L151.53 319.80L148.22 323.11L144.91 319.80Z" fill="#8a2be2"/>
<path d="M169.95 384.87L173.26 388.18L169.95 391.49L166.65 388.18Z" fill="#8a2be2"/>
<path d="M192.09 410.31L195.40 413.62L192.09 416.93L188.78 413.62Z" fill="#8a2be2"/>
<circle cx="68.93" cy="413.62" r="2.99" fill="#ff1e1e"/>
<circle cx="108.58" cy="399.87" r="2.99" fill="#ff1e1e"/>
<circle cx="148.22" cy="365.44" r="2.99" fill="#ff1e1e"/>
<circle cx="187.56" cy="399.79" r="2.99" fill="#ff1e1e"/>
<circle cx="227.61" cy="413.62" r="2.99" fill="#ff1e1e"/>
<path d="M120.49 410.17L120.49 417.07L114.45 413.62Z" fill="#b8862e"/>
<path d="M135.79 381.71L135.79 388.61L129.75 385.16Z" fill="#b8862e"/>
<path d="M150.98 297.58L150.98 304.48L144.94 301.03Z" fill="#b8862e"/>
<path d="M166.07 382.34L166.07 389.24L160.03 385.79Z" fill="#b8862e"/>
<path d="M181.16 410.17L181.16 417.07L175.13 413.62Z" fill="#b8862e"/>
<path d="M114.97 410.17L114.97 417.07L121.01 413.62Z" fill="#1ee6f0"/>
<path d="M130.77 403.81L130.77 410.71L136.81 407.26Z" fill="#1ee6f0"/>
<path d="M145.46 378.37L145.46 385.27L151.50 381.82Z" fill="#1ee6f0"/>
<path d="M160.45 405.40L160.45 412.30L166.49 408.85Z" fill="#1ee6f0"/>
<path d="M175.64 410.17L175.64 417.07L181.68 413.62Z" fill="#1ee6f0"/>
<rect x="47.60" y="254.60" width="211.30" height="178.90" fill="none" stroke="#3a3a3a" stroke-width="1"/>
<path d="M47.60 433.50V430.30M57.66 433.50V431.70M67.72 433.50V430.30M77.79 433.50V431.70M87.85 433.50V430.30M97.91 433.50V431.70M107.97 433.50V430.30M118.03 433.50V431.70M128.10 433.50V430.30M138.16 433.50V431.70M148.22 433.50V430.30M158.28 433.50V431.70M168.34 433.50V430.30M178.40 433.50V431.70M188.47 433.50V430.30M198.53 433.50V431.70M208.59 433.50V430.30M218.65 433.50V431.70M228.71 433.50V430.30M238.78 433.50V431.70M248.84 433.50V430.30M258.90 433.50V431.70M47.60 413.62H50.80M47.60 393.74H49.40M47.60 373.87H50.80M47.60 353.99H49.40M47.60 334.11H50.80M47.60 314.23H49.40M47.60 294.36H50.80M47.60 274.48H49.40M47.60 254.60H50.80" stroke="#3a3a3a" stroke-width="0.9" fill="none"/>
<text x="47.60" y="443.90" font-family="'Liberation Serif','Times New Roman',serif" font-size="7.6" text-anchor="middle" font-weight="bold" font-style="normal" >-10</text>
<text x="67.72" y="443.90" font-family="'Liberation Serif','Times New Roman',serif" font-size="7.6" text-anchor="middle" font-weight="bold" font-style="normal" >-8</text>
<text x="87.85" y="443.90" font-family="'Liberation Serif','Times New Roman',serif" font-size="7.6" text-anchor="middle" font-weight="bold" font-style="normal" >-6</text>
<text x="107.97" y="443.90" font-family="'Liberation Serif','Times New Roman',serif" font-size="7.6" text-anchor="middle" font-weight="bold" font-style="normal" >-4</text>
<text x="128.10" y="443.90" font-family="'Liberation Serif','Times New Roman',serif" font-size="7.6" text-anchor="middle" font-weight="bold" font-style="normal" >-2</text>
<text x="148.22" y="443.90" font-family="'Liberation Serif','Times New Roman',serif" font-size="7.6" text-anchor="middle" font-weight="bold" font-style="normal" >0</text>
<text x="168.34" y="443.90" font-family="'Liberation Serif','Times New Roman',serif" font-size="7.6" text-anchor="middle" font-weight="bold" font-style="normal" >2</text>
<text x="188.47" y="443.90" font-family="'Liberation Serif','Times New Roman',serif" font-size="7.6" text-anchor="middle" font-weight="bold" font-style="normal" >4</text>
<text x="208.59" y="443.90" font-family="'Liberation Serif','Times New Roman',serif" font-size="7.6" text-anchor="middle" font-weight="bold" font-style="normal" >6</text>
<text x="228.71" y="443.90" font-family="'Liberation Serif','Times New Roman',serif" font-size="7.6" text-anchor="middle" font-weight="bold" font-style="normal" >8</text>
<text x="248.84" y="443.90" font-family="'Liberation Serif','Times New Roman',serif" font-size="7.6" text-anchor="middle" font-weight="bold" font-style="normal" >10</text>
<text x="43.80" y="416.22" font-family="'Liberation Serif','Times New Roman',serif" font-size="7.6" text-anchor="end" font-weight="bold" font-style="normal" >0</text>
<text x="43.80" y="376.47" font-family="'Liberation Serif','Times New Roman',serif" font-size="7.6" text-anchor="end" font-weight="bold" font-style="normal" >50</text>
<text x="43.80" y="336.71" font-family="'Liberation Serif','Times New Roman',serif" font-size="7.6" text-anchor="end" font-weight="bold" font-style="normal" >100</text>
<text x="43.80" y="296.96" font-family="'Liberation Serif','Times New Roman',serif" font-size="7.6" text-anchor="end" font-weight="bold" font-style="normal" >150</text>
<text x="43.80" y="257.20" font-family="'Liberation Serif','Times New Roman',serif" font-size="7.6" text-anchor="end" font-weight="bold" font-style="normal" >200</text>
<text transform="translate(153.10,459.80) scale(0.93,1.0)" font-family="'Liberation Serif','Times New Roman',serif" font-size="11.3" text-anchor="middle" font-weight="bold" font-style="normal" >Reaction coordinate (Å)</text>
<text transform="translate(29.60,344.20) rotate(-90) scale(0.97,1)" font-family="'Liberation Serif','Times New Roman',serif" font-size="11.3" font-weight="bold" text-anchor="middle">Relative energy (kJ mol<tspan dy="-4" font-size="7.5">-1</tspan><tspan dy="4">)</tspan></text>
<path d="M55.00 266.40H59.60M67.60 266.40H72.20" stroke="#1ee81e" stroke-width="1.1"/>
<path d="M60.15 263.64L67.05 263.64L63.60 269.68Z" fill="#1ee81e"/>
<text x="75.90" y="269.20" font-family="'Liberation Serif','Times New Roman',serif" font-size="7.7" text-anchor="start" font-weight="bold" font-style="normal" >CH<tspan dy="2.2" font-size="5.5">4</tspan></text>
<path d="M55.00 277.80H59.60M67.60 277.80H72.20" stroke="#1a1aff" stroke-width="1.1"/>
<path d="M60.15 280.56L67.05 280.56L63.60 274.52Z" fill="#1a1aff"/>
<text x="75.90" y="280.60" font-family="'Liberation Serif','Times New Roman',serif" font-size="7.7" text-anchor="start" font-weight="bold" font-style="normal" >CO</text>
<path d="M55.00 289.20H59.60M67.60 289.20H72.20" stroke="#b8862e" stroke-width="1.1"/>
<path d="M66.36 285.75L66.36 292.65L60.32 289.20Z" fill="#b8862e"/>
<text x="75.90" y="292.00" font-family="'Liberation Serif','Times New Roman',serif" font-size="7.7" text-anchor="start" font-weight="bold" font-style="normal" >Ar</text>
<path d="M55.00 300.60H59.60M67.60 300.60H72.20" stroke="#8a2be2" stroke-width="1.1"/>
<path d="M63.60 296.98L67.22 300.60L63.60 304.22L59.98 300.60Z" fill="#8a2be2"/>
<text x="75.90" y="303.40" font-family="'Liberation Serif','Times New Roman',serif" font-size="7.7" text-anchor="start" font-weight="bold" font-style="normal" >N<tspan dy="2.2" font-size="5.5">2</tspan></text>
<path d="M55.00 312.00H59.60M67.60 312.00H72.20" stroke="#ff1e1e" stroke-width="1.1"/>
<circle cx="63.60" cy="312.00" r="3.28" fill="#ff1e1e"/>
<text x="75.90" y="314.80" font-family="'Liberation Serif','Times New Roman',serif" font-size="7.7" text-anchor="start" font-weight="bold" font-style="normal" >CO<tspan dy="2.2" font-size="5.5">2</tspan></text>
<path d="M55.00 323.40H59.60M67.60 323.40H72.20" stroke="#1ee6f0" stroke-width="1.1"/>
<path d="M60.84 319.95L60.84 326.85L66.88 323.40Z" fill="#1ee6f0"/>
<text x="75.90" y="326.20" font-family="'Liberation Serif','Times New Roman',serif" font-size="7.7" text-anchor="start" font-weight="bold" font-style="normal" >Ne</text>
<path d="M55.00 334.80H59.60M67.60 334.80H72.20" stroke="#000000" stroke-width="1.1"/>
<rect x="60.84" y="332.04" width="5.52" height="5.52" fill="#000000"/>
<text x="75.90" y="337.60" font-family="'Liberation Serif','Times New Roman',serif" font-size="7.7" text-anchor="start" font-weight="bold" font-style="normal" >He</text>
<text transform="translate(4.00,241.00) scale(1.09,1.0)" font-family="'Liberation Serif','Times New Roman',serif" font-size="20.5" text-anchor="start" font-weight="normal" font-style="normal" >(c)</text>
<path d="M351.79 417.30C364.50 417.30 376.84 419.32 389.92 396.24C403.00 373.16 417.49 280.14 430.25 278.79C443.01 277.44 454.46 365.06 466.49 388.14C478.52 411.22 490.45 417.30 502.42 417.30" fill="none" stroke="#1ee81e" stroke-width="1.05"/>
<path d="M406.89 392.03C414.69 372.53 422.45 300.34 430.25 300.34C438.05 300.34 445.95 372.53 453.71 392.03" fill="none" stroke="#1a1aff" stroke-width="1.05"/>
<path d="M399.14 417.30L414.54 417.30L430.25 407.50L445.96 417.30L461.57 417.30" fill="none" stroke="#000000" stroke-width="1.05"/>
<path d="M383.43 417.30C391.25 417.30 399.09 408.20 406.89 394.62C414.69 381.04 422.45 335.68 430.25 335.81C438.05 335.95 445.95 381.85 453.71 395.43C461.48 409.01 469.15 417.30 476.86 417.30" fill="none" stroke="#8a2be2" stroke-width="1.05"/>
<path d="M347.92 417.30C361.64 417.30 375.36 415.90 389.08 407.58C402.81 399.26 416.55 367.40 430.25 367.40C443.95 367.40 457.68 399.26 471.31 407.58C484.95 415.90 498.48 417.30 512.06 417.30" fill="none" stroke="#ff1e1e" stroke-width="1.05"/>
<path d="M399.14 417.30C404.27 417.30 409.35 410.24 414.54 393.32C419.72 376.41 425.08 315.81 430.25 315.81C435.42 315.81 440.32 376.41 445.54 393.32C450.76 410.24 456.23 417.30 461.57 417.30" fill="none" stroke="#b8862e" stroke-width="1.05"/>
<path d="M399.14 417.30C404.27 417.30 409.35 417.68 414.54 413.01C419.72 408.34 425.03 389.13 430.25 389.27C435.47 389.42 440.64 409.23 445.86 413.90C451.08 418.57 456.33 417.30 461.57 417.30" fill="none" stroke="#1ee6f0" stroke-width="1.05"/>
<path d="M348.34 414.54L355.24 414.54L351.79 420.58Z" fill="#1ee81e"/>
<path d="M386.47 393.48L393.37 393.48L389.92 399.52Z" fill="#1ee81e"/>
<path d="M426.80 276.03L433.70 276.03L430.25 282.07Z" fill="#1ee81e"/>
<path d="M463.04 385.38L469.94 385.38L466.49 391.42Z" fill="#1ee81e"/>
<path d="M498.97 414.54L505.87 414.54L502.42 420.58Z" fill="#1ee81e"/>
<path d="M403.44 394.79L410.34 394.79L406.89 388.75Z" fill="#1a1aff"/>
<path d="M426.80 303.10L433.70 303.10L430.25 297.06Z" fill="#1a1aff"/>
<path d="M450.26 394.79L457.16 394.79L453.71 388.75Z" fill="#1a1aff"/>
<rect x="396.62" y="414.78" width="5.04" height="5.04" fill="#000000"/>
<rect x="412.02" y="414.78" width="5.04" height="5.04" fill="#000000"/>
<rect x="427.73" y="404.98" width="5.04" height="5.04" fill="#000000"/>
<rect x="443.44" y="414.78" width="5.04" height="5.04" fill="#000000"/>
<rect x="459.05" y="414.78" width="5.04" height="5.04" fill="#000000"/>
<path d="M383.43 413.99L386.73 417.30L383.43 420.61L380.12 417.30Z" fill="#8a2be2"/>
<path d="M406.89 391.31L410.20 394.62L406.89 397.93L403.58 394.62Z" fill="#8a2be2"/>
<path d="M430.25 332.51L433.56 335.81L430.25 339.12L426.94 335.81Z" fill="#8a2be2"/>
<path d="M453.71 392.12L457.02 395.43L453.71 398.74L450.41 395.43Z" fill="#8a2be2"/>
<path d="M476.86 413.99L480.17 417.30L476.86 420.61L473.56 417.30Z" fill="#8a2be2"/>
<circle cx="347.92" cy="417.30" r="2.99" fill="#ff1e1e"/>
<circle cx="389.08" cy="407.58" r="2.99" fill="#ff1e1e"/>
<circle cx="430.25" cy="367.40" r="2.99" fill="#ff1e1e"/>
<circle cx="471.31" cy="407.58" r="2.99" fill="#ff1e1e"/>
<circle cx="512.06" cy="417.30" r="2.99" fill="#ff1e1e"/>
<path d="M401.90 413.85L401.90 420.75L395.86 417.30Z" fill="#b8862e"/>
<path d="M417.30 389.87L417.30 396.77L411.26 393.32Z" fill="#b8862e"/>
<path d="M433.01 312.36L433.01 319.26L426.97 315.81Z" fill="#b8862e"/>
<path d="M448.30 389.87L448.30 396.77L442.27 393.32Z" fill="#b8862e"/>
<path d="M464.33 413.85L464.33 420.75L458.29 417.30Z" fill="#b8862e"/>
<path d="M396.38 413.85L396.38 420.75L402.42 417.30Z" fill="#1ee6f0"/>
<path d="M411.78 409.56L411.78 416.46L417.81 413.01Z" fill="#1ee6f0"/>
<path d="M427.49 385.82L427.49 392.72L433.53 389.27Z" fill="#1ee6f0"/>
<path d="M443.10 410.45L443.10 417.35L449.14 413.90Z" fill="#1ee6f0"/>
<path d="M458.81 413.85L458.81 420.75L464.85 417.30Z" fill="#1ee6f0"/>
<rect x="325.50" y="255.30" width="209.50" height="178.20" fill="none" stroke="#3a3a3a" stroke-width="1"/>
<path d="M325.50 433.50V430.30M335.98 433.50V431.70M346.45 433.50V430.30M356.93 433.50V431.70M367.40 433.50V430.30M377.88 433.50V431.70M388.35 433.50V430.30M398.82 433.50V431.70M409.30 433.50V430.30M419.77 433.50V431.70M430.25 433.50V430.30M440.73 433.50V431.70M451.20 433.50V430.30M461.68 433.50V431.70M472.15 433.50V430.30M482.62 433.50V431.70M493.10 433.50V430.30M503.57 433.50V431.70M514.05 433.50V430.30M524.52 433.50V431.70M535.00 433.50V430.30M325.50 417.30H328.70M325.50 397.05H327.30M325.50 376.80H328.70M325.50 356.55H327.30M325.50 336.30H328.70M325.50 316.05H327.30M325.50 295.80H328.70M325.50 275.55H327.30M325.50 255.30H328.70" stroke="#3a3a3a" stroke-width="0.9" fill="none"/>
<text transform="translate(325.50,443.90) scale(0.86,1.0)" font-family="'Liberation Serif','Times New Roman',serif" font-size="7.6" text-anchor="middle" font-weight="bold" font-style="normal" >-10</text>
<text transform="translate(346.45,443.90) scale(0.86,1.0)" font-family="'Liberation Serif','Times New Roman',serif" font-size="7.6" text-anchor="middle" font-weight="bold" font-style="normal" >-8</text>
<text transform="translate(367.40,443.90) scale(0.86,1.0)" font-family="'Liberation Serif','Times New Roman',serif" font-size="7.6" text-anchor="middle" font-weight="bold" font-style="normal" >-6</text>
<text transform="translate(388.35,443.90) scale(0.86,1.0)" font-family="'Liberation Serif','Times New Roman',serif" font-size="7.6" text-anchor="middle" font-weight="bold" font-style="normal" >-4</text>
<text transform="translate(409.30,443.90) scale(0.86,1.0)" font-family="'Liberation Serif','Times New Roman',serif" font-size="7.6" text-anchor="middle" font-weight="bold" font-style="normal" >-2</text>
<text transform="translate(430.25,443.90) scale(0.86,1.0)" font-family="'Liberation Serif','Times New Roman',serif" font-size="7.6" text-anchor="middle" font-weight="bold" font-style="normal" >0</text>
<text transform="translate(451.20,443.90) scale(0.86,1.0)" font-family="'Liberation Serif','Times New Roman',serif" font-size="7.6" text-anchor="middle" font-weight="bold" font-style="normal" >2</text>
<text transform="translate(472.15,443.90) scale(0.86,1.0)" font-family="'Liberation Serif','Times New Roman',serif" font-size="7.6" text-anchor="middle" font-weight="bold" font-style="normal" >4</text>
<text transform="translate(493.10,443.90) scale(0.86,1.0)" font-family="'Liberation Serif','Times New Roman',serif" font-size="7.6" text-anchor="middle" font-weight="bold" font-style="normal" >6</text>
<text transform="translate(514.05,443.90) scale(0.86,1.0)" font-family="'Liberation Serif','Times New Roman',serif" font-size="7.6" text-anchor="middle" font-weight="bold" font-style="normal" >8</text>
<text transform="translate(535.00,443.90) scale(0.86,1.0)" font-family="'Liberation Serif','Times New Roman',serif" font-size="7.6" text-anchor="middle" font-weight="bold" font-style="normal" >10</text>
<text transform="translate(321.70,419.90) scale(0.86,1.0)" font-family="'Liberation Serif','Times New Roman',serif" font-size="7.6" text-anchor="end" font-weight="bold" font-style="normal" >0</text>
<text transform="translate(321.70,379.40) scale(0.86,1.0)" font-family="'Liberation Serif','Times New Roman',serif" font-size="7.6" text-anchor="end" font-weight="bold" font-style="normal" >50</text>
<text transform="translate(321.70,338.90) scale(0.86,1.0)" font-family="'Liberation Serif','Times New Roman',serif" font-size="7.6" text-anchor="end" font-weight="bold" font-style="normal" >100</text>
<text transform="translate(321.70,298.40) scale(0.86,1.0)" font-family="'Liberation Serif','Times New Roman',serif" font-size="7.6" text-anchor="end" font-weight="bold" font-style="normal" >150</text>
<text transform="translate(321.70,257.90) scale(0.86,1.0)" font-family="'Liberation Serif','Times New Roman',serif" font-size="7.6" text-anchor="end" font-weight="bold" font-style="normal" >200</text>
<text transform="translate(430.60,459.80) scale(0.93,1.0)" font-family="'Liberation Serif','Times New Roman',serif" font-size="11.3" text-anchor="middle" font-weight="bold" font-style="normal" >Reaction coordinate (Å)</text>
<text transform="translate(307.60,344.20) rotate(-90) scale(0.97,1)" font-family="'Liberation Serif','Times New Roman',serif" font-size="11.3" font-weight="bold" text-anchor="middle">Relative energy (kJ mol<tspan dy="-4" font-size="7.5">-1</tspan><tspan dy="4">)</tspan></text>
<path d="M331.00 262.70H335.60M343.60 262.70H348.20" stroke="#1ee81e" stroke-width="1.1"/>
<path d="M336.15 259.94L343.05 259.94L339.60 265.98Z" fill="#1ee81e"/>
<text transform="translate(350.30,265.50) scale(0.9,1.0)" font-family="'Liberation Serif','Times New Roman',serif" font-size="7.7" text-anchor="start" font-weight="bold" font-style="normal" >CH<tspan dy="2.2" font-size="5.5">4</tspan></text>
<path d="M331.00 274.10H335.60M343.60 274.10H348.20" stroke="#1a1aff" stroke-width="1.1"/>
<path d="M336.15 276.86L343.05 276.86L339.60 270.82Z" fill="#1a1aff"/>
<text transform="translate(352.30,276.90) scale(0.9,1.0)" font-family="'Liberation Serif','Times New Roman',serif" font-size="7.7" text-anchor="start" font-weight="bold" font-style="normal" >CO</text>
<path d="M331.00 285.50H335.60M343.60 285.50H348.20" stroke="#b8862e" stroke-width="1.1"/>
<path d="M342.36 282.05L342.36 288.95L336.32 285.50Z" fill="#b8862e"/>
<text transform="translate(352.30,288.30) scale(0.9,1.0)" font-family="'Liberation Serif','Times New Roman',serif" font-size="7.7" text-anchor="start" font-weight="bold" font-style="normal" >Ar</text>
<path d="M331.00 296.90H335.60M343.60 296.90H348.20" stroke="#8a2be2" stroke-width="1.1"/>
<path d="M339.60 293.28L343.22 296.90L339.60 300.52L335.98 296.90Z" fill="#8a2be2"/>
<text transform="translate(352.30,299.70) scale(0.9,1.0)" font-family="'Liberation Serif','Times New Roman',serif" font-size="7.7" text-anchor="start" font-weight="bold" font-style="normal" >N<tspan dy="2.2" font-size="5.5">2</tspan></text>
<path d="M331.00 308.30H335.60M343.60 308.30H348.20" stroke="#ff1e1e" stroke-width="1.1"/>
<circle cx="339.60" cy="308.30" r="3.28" fill="#ff1e1e"/>
<text transform="translate(352.30,311.10) scale(0.9,1.0)" font-family="'Liberation Serif','Times New Roman',serif" font-size="7.7" text-anchor="start" font-weight="bold" font-style="normal" >CO<tspan dy="2.2" font-size="5.5">2</tspan></text>
<path d="M331.00 319.70H335.60M343.60 319.70H348.20" stroke="#1ee6f0" stroke-width="1.1"/>
<path d="M336.84 316.25L336.84 323.15L342.88 319.70Z" fill="#1ee6f0"/>
<text transform="translate(352.30,322.50) scale(0.9,1.0)" font-family="'Liberation Serif','Times New Roman',serif" font-size="7.7" text-anchor="start" font-weight="bold" font-style="normal" >Ne</text>
<path d="M331.00 331.10H335.60M343.60 331.10H348.20" stroke="#000000" stroke-width="1.1"/>
<rect x="336.84" y="328.34" width="5.52" height="5.52" fill="#000000"/>
<text transform="translate(352.30,333.90) scale(0.9,1.0)" font-family="'Liberation Serif','Times New Roman',serif" font-size="7.7" text-anchor="start" font-weight="bold" font-style="normal" >He</text>
<text transform="translate(281.50,241.00) scale(1.08,1.0)" font-family="'Liberation Serif','Times New Roman',serif" font-size="20.5" text-anchor="start" font-weight="normal" font-style="normal" >(d)</text>
</svg></body></html>
